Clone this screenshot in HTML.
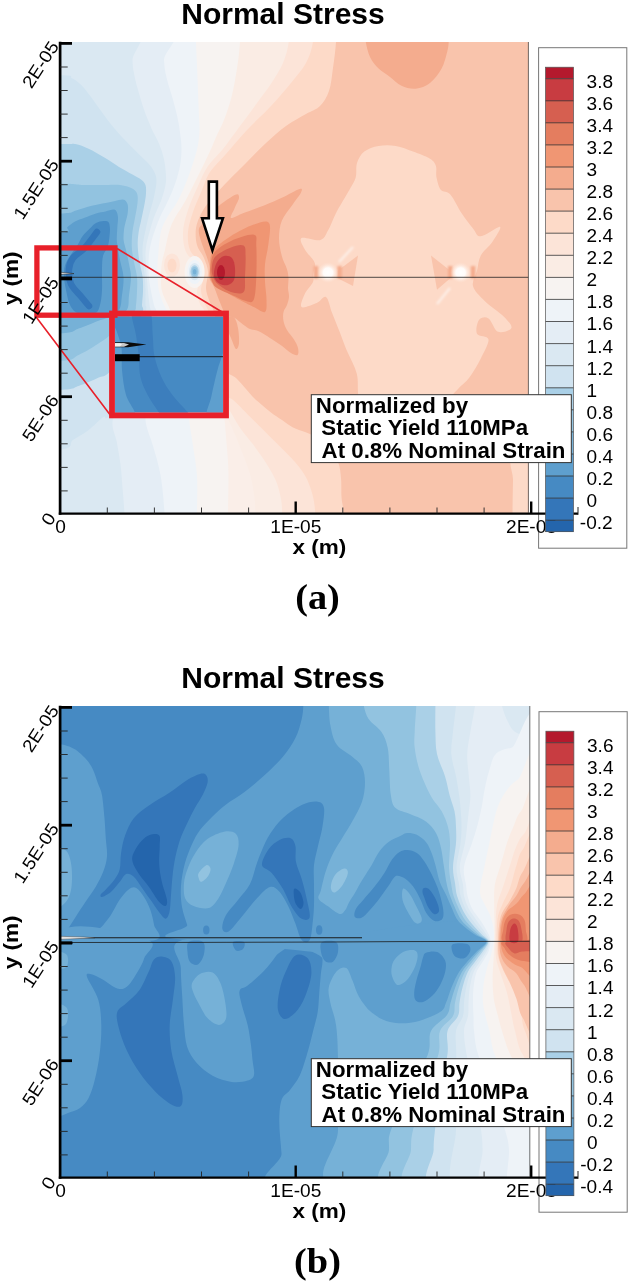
<!DOCTYPE html>
<html lang="en"><head><meta charset="utf-8"><title>Normal Stress</title>
<style>
html,body{margin:0;padding:0;background:#fff}
svg{display:block}
text{font-family:"Liberation Sans",Arial,sans-serif;fill:#000}
.b{font-weight:bold}
.t{font-family:"Liberation Serif","Times New Roman",serif;font-weight:bold}
</style></head><body>
<svg width="629" height="1284" viewBox="0 0 629 1284">
<rect width="629" height="1284" fill="#fff"/>
<defs><clipPath id="ca"><rect x="60" y="42" width="468.5" height="471.5"/></clipPath>
<clipPath id="cin"><rect x="115" y="316.4" width="108" height="96.2"/></clipPath>
<filter id="bl1" x="-50%" y="-50%" width="200%" height="200%"><feGaussianBlur stdDeviation="1.2"/></filter>
<filter id="bl2" x="-50%" y="-50%" width="200%" height="200%"><feGaussianBlur stdDeviation="2.2"/></filter>
<radialGradient id="gw"><stop offset="0" stop-color="#fff"/><stop offset="0.45" stop-color="#fff" stop-opacity="0.9"/><stop offset="1" stop-color="#fde4d6" stop-opacity="0"/></radialGradient>
</defs>
<g clip-path="url(#ca)">
<rect x="55" y="37" width="480" height="482" fill="#f9c4ac"/>
<path d="M336 20C395.3 23.7 336.5 34 336 42C335.5 50 334.2 59.8 333 68C331.8 76.2 331.2 84.7 329 91C326.8 97.3 323.8 102.2 320 106C316.2 109.8 311.7 110.7 306 114C300.3 117.3 292.7 121.2 286 126C279.3 130.8 272.7 136.8 266 143C259.3 149.2 252.2 156.8 246 163C239.8 169.2 234.5 174.3 229 180C223.5 185.7 217.5 191.7 213 197C208.5 202.3 204.8 206.8 202 212C199.2 217.2 196.8 222.5 196 228C195.2 233.5 195.7 240 197 245C198.3 250 202.2 253.5 204 258C205.8 262.5 207.7 267 208 272C208.3 277 205.8 283.3 206 288C206.2 292.7 207.7 296 209 300C210.3 304 212.5 307 214 312C215.5 317 216.7 322.8 218 330C219.3 337.2 220.4 348 222 355C223.6 362 225.3 368.2 227.6 372C229.9 375.8 232.9 375.2 236 378C239.1 380.8 243 385.7 246 389C249 392.3 251.3 395.3 254 398C256.7 400.7 259.2 402.6 262 405C264.8 407.4 267.7 410 271 412.5C274.3 415 278.3 417.5 282 420C285.7 422.5 289.2 425.5 293 427.5C296.8 429.5 301.3 430.4 305 432C308.7 433.6 311.2 434.3 315 437C318.8 439.7 324.2 443.8 328 448C331.8 452.2 335.8 457 338 462C340.2 467 340.4 472.2 341 478C341.6 483.8 341.1 491.2 341.5 497C341.9 502.8 343.2 505.8 343.5 513C343.8 520.2 404.1 535.5 343.5 540C282.9 544.5 40.6 626.7 -20 540C-80.6 453.3 -79.3 106.7 -20 20C39.3 -66.7 276.7 16.3 336 20Z" fill="#fddac8"/>
<path d="M313 20C368.5 23.7 314.2 34.8 313 42C311.8 49.2 309.7 56.2 306 63C302.3 69.8 296.8 75.8 291 83C285.2 90.2 278.2 98.3 271 106C263.8 113.7 255.5 121 248 129C240.5 137 232.3 146.8 226 154C219.7 161.2 214 166 210 172C206 178 204.8 183.3 202 190C199.2 196.7 195.3 205 193 212C190.7 219 188.5 225.7 188 232C187.5 238.3 188 245 190 250C192 255 197.7 258 200 262C202.3 266 203.8 269.3 204 274C204.2 278.7 201 285.3 201 290C201 294.7 202.7 298.2 204 302C205.3 305.8 207.3 306.7 209 313C210.7 319.3 212.2 328.8 214 340C215.8 351.2 218 370.7 220 380C222 389.3 223.7 392.6 226 396C228.3 399.4 229.5 396.7 234 400.7C238.5 404.7 246.6 413.4 253 419.8C259.4 426.2 265.9 432.5 272.3 438.9C278.7 445.3 285.9 452 291.3 458C296.7 464 301.2 469 304.7 475C308.2 481 310.6 487.7 312.3 494C314.1 500.3 314.7 505.3 315.2 513C315.7 520.7 371.1 535.5 315.2 540C259.3 544.5 35.9 626.7 -20 540C-75.9 453.3 -75.5 106.7 -20 20C35.5 -66.7 257.5 16.3 313 20Z" fill="#fce4d8"/>
<path d="M288.7 20C340.1 23.7 289.6 34.8 288.7 42C287.8 49.2 285.9 56.2 283 63C280.1 69.8 275.8 76.3 271.5 83C267.2 89.7 262.2 95.8 257 103C251.8 110.2 245.7 118.3 240 126C234.3 133.7 228.3 142.3 223 149C217.7 155.7 212.2 159.8 208 166C203.8 172.2 201.3 178.7 198 186C194.7 193.3 190.5 202.3 188 210C185.5 217.7 183.3 225 183 232C182.7 239 183.7 246.7 186 252C188.3 257.3 194.5 260 197 264C199.5 268 201 271.3 201 276C201 280.7 197.2 287.3 197 292C196.8 296.7 198.7 300.5 200 304C201.3 307.5 203.3 306.2 205 313C206.7 319.8 208 333 210 345C212 357 214.7 375.5 217 385C219.3 394.5 222.3 398.4 224 402C225.7 405.6 224.8 402.3 227.4 406.5C230 410.7 235.5 421 239.8 427.4C244.1 433.8 248.8 438.6 253.2 444.6C257.6 450.7 262.7 457.6 266.5 463.7C270.3 469.8 273.6 475.2 276 480.9C278.4 486.6 279.8 492.6 280.8 498C281.8 503.4 282 506 282.2 513C282.4 520 332.6 535.5 282.2 540C231.8 544.5 30.4 626.7 -20 540C-70.4 453.3 -71.4 106.7 -20 20C31.4 -66.7 237.2 16.3 288.7 20Z" fill="#faece4"/>
<path d="M205 380C244.2 383.3 211.8 394.3 215 400C218.2 405.7 221.9 411 224 414C226.1 417 225.4 414.2 227.4 418C229.4 421.8 233.3 430.7 236 437C238.7 443.3 241.2 449.7 243.6 456C246 462.3 248.6 468.7 250.3 475C252 481.3 253.1 487.7 254 494C254.9 500.3 255.2 505.3 255.5 513C255.8 520.7 301.4 535.5 255.5 540C209.6 544.5 25.9 566.7 -20 540C-65.9 513.3 -57.5 406.7 -20 380C17.5 353.3 165.8 376.7 205 380Z" fill="#faeee8"/>
<path d="M240 20C283.3 23.7 240.5 33.9 240 42C239.5 50.1 238.4 59.4 237 68.6C235.6 77.8 233.7 88.4 231.5 97C229.3 105.6 226.4 113.7 224 120C221.6 126.3 219.2 130.2 217 135C214.8 139.8 213.2 144.2 211 149C208.8 153.8 206.3 159.2 204 164C201.7 168.8 199.3 173.3 197 178C194.7 182.7 192.3 187.5 190 192C187.7 196.5 185.3 201 183 205C180.7 209 178 212.5 176 216C174 219.5 172.4 222.3 171 226C169.6 229.7 168.5 234 167.5 238C166.5 242 165.9 246 165 250C164.1 254 162.7 257.5 162 262C161.3 266.5 161 272.2 161 277C161 281.8 160.8 286.3 162 291C163.2 295.7 166 301.2 168 305C170 308.8 168.7 309.8 174 314C179.3 318.2 193.2 319 200 330C206.8 341 211.3 366.7 215 380C218.7 393.3 220.4 403.5 222 410C223.6 416.5 223.8 413.6 224.5 419C225.2 424.4 225.8 434 226.5 442.7C227.2 451.4 228.2 459.6 228.4 471.3C228.7 483 228.1 501.6 228 513C227.9 524.5 269.3 535.5 228 540C186.7 544.5 21.3 626.7 -20 540C-61.3 453.3 -63.3 106.7 -20 20C23.3 -66.7 196.7 16.3 240 20Z" fill="#f7f3f1"/>
<path d="M196 20C232 23.7 195.8 34.5 196 42C196.2 49.5 196.7 56.8 197 65C197.3 73.2 197.7 82.5 198 91C198.3 99.5 198.8 109.5 199 116C199.2 122.5 199.7 125.2 199.5 130C199.3 134.8 198.9 140 198 145C197.1 150 195.5 155 194 160C192.5 165 190.8 170 189 175C187.2 180 185.2 185.2 183 190C180.8 194.8 178.5 199.7 176 204C173.5 208.3 170.3 212 168 216C165.7 220 163.4 224 162 228C160.6 232 160.1 236 159.5 240C158.9 244 158.8 248 158.5 252C158.2 256 157.7 259.8 157.5 264C157.3 268.2 157.2 272.5 157.5 277C157.8 281.5 157.9 286.3 159 291C160.1 295.7 162.2 300.8 164 305C165.8 309.2 167.3 310.2 170 316C172.7 321.8 177.2 327.7 180 340C182.8 352.3 185.5 376.8 187 390C188.5 403.2 188 409.7 189 419C190 428.3 191.7 436.5 193 446C194.3 455.5 196.3 464.8 197 476C197.7 487.2 197 502.3 197 513C197 523.7 233.2 535.5 197 540C160.8 544.5 16.2 626.7 -20 540C-56.2 453.3 -56 106.7 -20 20C16 -66.7 160 16.3 196 20Z" fill="#eef3f8"/>
<path d="M164 20C194.7 26.7 163.5 50.2 164 60C164.5 69.8 165.5 72.6 166.9 79C168.3 85.4 170.8 91.8 172.6 98.2C174.3 104.6 176.2 111.6 177.4 117.3C178.6 123 179.3 127.4 180 132.5C180.7 137.6 181.4 142.9 181.5 148C181.6 153.1 181.2 158 180.5 163C179.8 168 178.4 173.2 177 178C175.6 182.8 173.8 187.5 172 192C170.2 196.5 168 200.8 166 205C164 209.2 161.8 212.8 160 217C158.2 221.2 156.5 225.7 155 230C153.5 234.3 152 239 151 243C150 247 149.4 250.3 149 254C148.6 257.7 148.5 261.2 148.5 265C148.5 268.8 148.4 272.7 148.8 277C149.2 281.3 150.1 286.3 151 291C151.9 295.7 153 301.2 154 305C155 308.8 156.3 308.2 157 314C157.7 319.8 159.2 327.3 158 340C156.8 352.7 152.1 376.8 150 390C147.9 403.2 144.9 409.7 145.4 419C145.9 428.3 150.4 436.5 153 446C155.6 455.5 158.8 464.8 160.7 476C162.6 487.2 163.9 502.3 164.5 513C165.1 523.7 195.2 535.5 164.5 540C133.8 544.5 10.8 626.7 -20 540C-50.8 453.3 -50.7 106.7 -20 20C10.7 -66.7 133.3 13.3 164 20Z" fill="#e4edf5"/>
<path d="M132.5 20C157.9 26.7 132.2 50.8 132.5 60C132.8 69.2 133.5 70.2 134.4 75.3C135.3 80.4 136.6 84.8 138.2 90.5C139.8 96.2 141.8 103.2 144 109.6C146.2 116 149.1 123 151.6 128.7C154.1 134.4 157.1 138.9 159.2 144C161.3 149.1 162.9 154.1 164 159.2C165.1 164.3 165.7 170.2 165.9 174.5C166.2 178.8 166.2 181.1 165.5 185C164.8 188.9 163.4 193.8 162 198C160.6 202.2 158.5 206.3 157 210C155.5 213.7 154.2 216.3 153 220C151.8 223.7 150.6 228 149.5 232C148.4 236 147.2 240.3 146.5 244C145.8 247.7 145.6 250.5 145.5 254C145.4 257.5 145.8 261.2 146 265C146.2 268.8 146.5 272.7 146.8 277C147.1 281.3 147.6 286.3 148 291C148.4 295.7 149 301.2 149.5 305C150 308.8 150.9 308.2 151 314C151.1 319.8 153.5 327.3 150 340C146.5 352.7 136.2 376.8 130 390C123.8 403.2 115.2 410.3 113 419C110.8 427.7 115.5 434.3 116.8 442C118.1 449.7 119.6 457.3 120.6 465C121.5 472.7 121.9 480 122.5 488C123.1 496 124.1 504.3 124.4 513C124.7 521.7 148.5 535.5 124.4 540C100.3 544.5 4.1 626.7 -20 540C-44.1 453.3 -45.4 106.7 -20 20C5.4 -66.7 107.1 13.3 132.5 20Z" fill="#dae8f2"/>
<path d="M-20 75.3C-6.3 12.9 46.8 74.8 62 75.3C77.2 75.8 68.3 76.4 71.5 78C74.7 79.6 77.8 81.8 81 84.8C84.2 87.8 87.3 92.2 90.5 96.3C93.7 100.4 96.5 104.8 100 109.6C103.5 114.4 107.3 119.8 111.5 124.9C115.7 130 120.5 135.2 124.9 140C129.3 144.8 134.1 149.3 138.2 153.5C142.3 157.7 146.8 161.5 149.7 165C152.6 168.5 154.3 171.7 155.4 174.5C156.5 177.3 156.5 179.1 156.4 182C156.3 184.9 155.7 188.5 155 192C154.3 195.5 153.5 199.2 152.5 203C151.5 206.8 150.1 210.8 149 215C147.9 219.2 146.9 223.8 146 228C145.1 232.2 144.1 236.3 143.5 240C142.9 243.7 142.6 246.3 142.5 250C142.4 253.7 142.6 257.5 143 262C143.4 266.5 144.4 272.2 144.8 277C145.2 281.8 145.4 286.3 145.5 291C145.6 295.7 145.4 301.2 145.5 305C145.6 308.8 146.9 301.5 146 314C145.1 326.5 146.2 363 140 380C133.8 397 115.1 409.8 109 416C102.9 422.2 106.9 414.6 103.4 417C99.9 419.4 93.1 426.7 88 430.5C82.9 434.3 77.7 436.8 73 440C68.3 443.2 75.5 448 60 449.6C44.5 451.2 -6.7 512 -20 449.6C-33.3 387.2 -33.7 137.7 -20 75.3Z" fill="#d0e3f0"/>
<path d="M-20 144C-6.3 103.1 46.1 144 62 144C77.9 144 70.9 143.2 75.3 144C79.7 144.8 83.8 146.5 88.6 148.7C93.4 150.9 98.8 154.3 103.9 157.3C109 160.3 114.2 164 119 166.9C123.8 169.8 128.8 172.4 132.5 174.5C136.2 176.6 138.8 177.8 141 179.5C143.2 181.2 144.7 182.7 145.5 185C146.3 187.3 146.1 190.4 146 193.4C145.9 196.4 145.2 199.8 144.7 203C144.2 206.2 143.5 209.3 142.8 212.5C142.2 215.7 141.4 219.1 140.8 222C140.2 224.9 139.5 227 139 230C138.5 233 138 236.7 137.8 240C137.6 243.3 137.7 246.3 138 250C138.3 253.7 138.7 257.5 139.5 262C140.3 266.5 142 272.2 142.6 277C143.2 281.8 143.1 286.3 143 291C142.9 295.7 142.2 301.2 142 305C141.8 308.8 144.8 306.5 142 314C139.2 321.5 130.5 340.2 125 350C119.5 359.8 113.5 367.8 109 372.5C104.5 377.2 102.8 375.8 97.7 378C92.6 380.2 84.9 383.9 78.6 385.9C72.3 387.8 76.4 389.1 60 389.7C43.6 390.3 -6.7 430.6 -20 389.7C-33.3 348.8 -33.7 184.9 -20 144Z" fill="#aad0e7"/>
<path d="M-20 183.5C-6.7 153.9 42.7 183.2 60 183.5C77.3 183.8 76.2 184.8 83.8 185C91.4 185.2 99.5 185 105.5 185C111.5 185 115.9 184.6 119.9 185C123.9 185.4 126.9 186.3 129.4 187.2C131.9 188.1 133.7 189.2 135 190.5C136.3 191.8 137.1 193.2 137.5 195.3C137.9 197.4 137.8 200.1 137.5 203C137.2 205.9 136.6 209.3 136 212.5C135.4 215.7 134.8 219.1 134.2 222C133.6 224.9 133.1 227 132.7 230C132.3 233 131.9 236.7 131.8 240C131.7 243.3 131.6 246.3 132 250C132.4 253.7 133.2 257.5 134 262C134.8 266.5 136.5 272.2 137 277C137.5 281.8 137.2 286.3 137 291C136.8 295.7 136.5 301.5 136 305C135.5 308.5 136.7 308.7 134 312C131.3 315.3 124.2 321 120 325C115.8 329 112.7 332.8 109 336C105.3 339.2 102.8 340.8 97.7 344C92.6 347.2 84.9 352.2 78.6 355C72.3 357.8 76.4 360 60 361C43.6 362 -6.7 390.6 -20 361C-33.3 331.4 -33.3 213.1 -20 183.5Z" fill="#92c3e0"/>
<path d="M-20 214C-6.7 194 44 214.1 60 213.5C76 212.9 70.7 211.8 76 210.5C81.3 209.2 86.9 207.1 91.8 205.8C96.7 204.6 101.6 203.8 105.5 203C109.4 202.2 112.1 201.6 115 201C117.9 200.4 120.8 199.4 122.7 199.6C124.6 199.8 125.6 200.8 126.5 202C127.4 203.2 127.8 204.7 128 206.8C128.2 208.9 127.9 211.9 127.5 214.4C127.1 216.9 126.2 219.4 125.6 222C125 224.6 124.3 227 124 230C123.7 233 123.3 236.7 123.6 240C123.9 243.3 125.1 246 126 250C126.9 254 128.2 259.5 129 264C129.8 268.5 131 271.8 131 277C131 282.2 129.8 289.3 129 295C128.2 300.7 129.7 307.2 126 311C122.3 314.8 111.7 316.3 107 318C102.3 319.7 102.4 319.2 97.7 321C93 322.8 84.9 326.5 78.6 328.6C72.3 330.7 76.4 332.6 60 333.4C43.6 334.2 -6.7 353.3 -20 333.4C-33.3 313.5 -33.3 234 -20 214Z" fill="#76b1d7"/>
<path d="M-20 234C-6.5 220 46.2 234.2 60.8 233C75.4 231.8 65.1 228.9 67.5 227C69.9 225.1 72.2 223.1 75 221.5C77.8 219.9 81.1 219 84.6 217.7C88.1 216.3 92.5 214.4 96 213.4C99.5 212.4 102.6 212.1 105.5 211.5C108.4 210.9 111.4 209.6 113.2 209.6C115 209.6 115.7 210.2 116.5 211.5C117.3 212.8 117.8 215.1 118 217.3C118.2 219.6 117.7 222.4 117.5 225C117.3 227.6 117.1 230.1 117 233C116.9 235.9 116.5 238 117 242.5C117.5 247 118.9 254.2 120 260C121.1 265.8 123.2 271.2 123.5 277C123.8 282.8 122.9 289.3 122 295C121.1 300.7 121.7 307.8 118 311C114.3 314.2 106.3 313.2 100 314C93.7 314.8 86.3 315.5 80 316C73.7 316.5 78.7 316.8 62 317C45.3 317.2 -6.3 330.8 -20 317C-33.7 303.2 -33.5 248 -20 234Z" fill="#5e9fce"/>
<path d="M108.4 222C107.4 221 105.7 220.8 103.6 221C101.5 221.2 98.2 221.8 96 223C93.8 224.2 92.6 225.8 90.4 228C88.2 230.2 84.9 233 82.7 236C80.5 239 79.1 242.7 77 246C74.9 249.3 72 252.8 70 256C68 259.2 66 261.9 65 265.4C64 268.9 63.8 272.9 64 277C64.2 281.1 65 285.3 66 290C67 294.7 68 301.2 70 305C72 308.8 73.8 311.7 78 313C82.2 314.3 91.3 314.3 95 313C98.7 311.7 98.8 308.8 100 305C101.2 301.2 101.7 295.8 102 290C102.3 284.2 101.8 275.7 102 270C102.2 264.3 102 260 103 256C104 252 106.9 249.8 108 246C109.1 242.2 109.5 236.2 109.8 233C110.1 229.8 110 228.6 109.8 226.8C109.6 225 109.4 223 108.4 222Z" fill="#468ac3"/>
<path d="M97 232C94.9 234.7 88.6 243.7 84.6 248C80.6 252.3 75.6 254.5 73 258C70.4 261.5 69.3 264.7 69 269C68.7 273.3 68.9 279.3 71 284C73.1 288.7 78.5 293.3 81.5 297C84.5 300.7 87.8 304.5 89 306" fill="none" stroke="#3476b9" stroke-width="6.5" stroke-linecap="round" stroke-linejoin="round"/>
<ellipse cx="172" cy="265" rx="8" ry="11.5" fill="#fce4d8"/>
<ellipse cx="172" cy="265.5" rx="4.5" ry="7" fill="#fddac8"/>
<ellipse cx="194.6" cy="272" rx="10" ry="16" fill="#f7f3f1"/>
<ellipse cx="194.6" cy="272" rx="7.5" ry="12" fill="#eef3f8"/>
<ellipse cx="194.6" cy="271.7" rx="5.6" ry="8.6" fill="#dae8f2"/>
<ellipse cx="194.6" cy="271.7" rx="4.2" ry="6.4" fill="#aad0e7"/>
<ellipse cx="194.6" cy="271.7" rx="3" ry="4.6" fill="#92c3e0"/>
<ellipse cx="194.6" cy="271.7" rx="1.8" ry="2.8" fill="#76b1d7"/>
<path d="M350 188.8C351.4 186 354.5 181.7 355.7 177.4C356.9 173.1 355.6 167.3 357 163C358.4 158.7 360.7 154.4 364.3 151.6C367.9 148.8 373.4 146.9 378.6 146C383.9 145.1 390.1 145.1 395.8 146C401.5 146.9 407.3 149.5 413 151.6C418.7 153.7 426.2 156.4 430 158.8C433.8 161.2 434.8 162.9 435.9 166C437 169.1 435.6 173.4 436.5 177.4C437.4 181.4 438.7 187.2 441 190C443.3 192.8 446.8 190.5 450.3 194.4C453.8 198.3 458 207.7 461.8 213.4C465.6 219.1 470 224.9 473.2 228.7C476.4 232.5 476.3 236.6 480.8 236.3C485.3 236 498.1 225.9 500 226.8C501.9 227.8 495.5 237.2 492.3 242C489.1 246.8 483.4 250.6 480.8 255.4C478.2 260.2 478.3 265.6 477 270.7C475.7 275.8 471.7 280.9 473 286C474.3 291.1 479.6 295.9 484.7 301C489.8 306.1 499.2 312 503.7 316.5C508.1 321 512.4 325.4 511.4 328C510.4 330.6 501.8 333.4 498 331.8C494.2 330.2 491.7 320.4 488.5 318.4C485.3 316.4 480.9 317.4 479 320C477.1 322.6 475.4 330.5 477 333.7C478.6 336.9 487.9 335.3 488.5 339.4C489.1 343.5 484 352.1 480.8 358.5C477.6 364.9 473.2 372.5 469.4 377.6C465.6 382.7 461.2 385.3 458 389C454.8 392.7 453 393.2 450 400C447 406.8 448.3 421.7 440 430C431.7 438.3 411.7 448.3 400 450C388.3 451.7 376.8 448.3 370 440C363.2 431.7 361.2 411.1 359 400C356.8 388.9 358.8 381.9 356.8 373.7C354.8 365.5 349.9 358 347 351C344.1 344 342.1 338.2 339.6 331.8C337.1 325.4 334.3 318.5 332 312.7C329.7 306.9 328.6 298.6 326 297C323.4 295.4 320.8 301.3 316.7 303C312.6 304.7 303.4 308.6 301.5 307C299.6 305.4 303.1 297.8 305 293.6C306.9 289.4 311.7 285.2 313 282C314.3 278.8 312.7 277.7 313 274.5C313.3 271.3 316.1 267.1 314.8 263C313.5 258.9 307.2 253.9 305 249.7C302.8 245.5 298.9 239.6 301.5 238C304.1 236.4 316.1 241.2 320.5 240C324.9 238.8 325.4 235 328 230.6C330.6 226.2 332.6 219.5 335.8 213.4C339 207.3 344.6 198.1 347 194C349.4 189.9 348.6 191.6 350 188.8Z" fill="#fddac8"/>
<path d="M514 455C506.2 461.7 513.2 470.3 513 480C512.8 489.7 512.6 503 512.5 513C512.4 523 504.6 535.5 512.5 540C520.4 544.5 552.1 556.7 560 540C567.9 523.3 567.7 454.2 560 440C552.3 425.8 521.8 448.3 514 455Z" fill="#fddac8"/>
<path d="M337.7 270.7L358 255.4L353 286L337.7 278.3Z" fill="#f9c4ac"/>
<path d="M450.3 270.7L431 255.4L437 289.8L450.3 278.3Z" fill="#f9c4ac"/>
<rect x="313.6" y="266" width="4.5" height="12.5" fill="#f4ac8e" filter="url(#bl1)"/>
<rect x="337.4" y="266" width="4.5" height="12.5" fill="#f4ac8e" filter="url(#bl1)"/>
<rect x="448" y="266" width="4.5" height="12.5" fill="#f4ac8e" filter="url(#bl1)"/>
<rect x="470.8" y="266" width="4.5" height="12.5" fill="#f4ac8e" filter="url(#bl1)"/>
<path d="M339 262L353 247" stroke="#fdeee6" stroke-width="2.5" filter="url(#bl1)"/>
<path d="M450 288L437 304" stroke="#fdeee6" stroke-width="2.5" filter="url(#bl1)"/>
<circle cx="328" cy="272.6" r="10.5" fill="url(#gw)"/>
<circle cx="460.6" cy="272.6" r="10.5" fill="url(#gw)"/>
<path d="M365.7 30C351.9 31.9 365 36.9 365.7 41.4C366.4 45.9 367.9 52.5 370 57C372.1 61.5 375.3 65.3 378.6 68.6C381.9 71.9 386.2 74.1 390 77C393.8 79.9 397.2 83.8 401.5 85.8C405.8 87.8 411.1 89.2 415.8 88.7C420.6 88.2 425.7 86.3 430 83C434.3 79.7 438.7 73.9 441.6 68.6C444.5 63.3 446.1 55.9 447.3 51.4C448.5 46.9 448.5 45 448.7 41.4C448.9 37.8 462.5 31.9 448.7 30C434.9 28.1 379.5 28.1 365.7 30Z" fill="#f4ac8e"/>
<path d="M209 264C207.3 256.7 200 240.2 199 233.4C198 226.6 200.7 226.8 203 223C205.3 219.2 207.7 215.2 213 210.5C218.3 205.8 230.4 197.1 234.7 195C239 192.9 239 195.6 239 197.8C239 200 236 204.6 234.7 208C233.4 211.4 229.5 217.2 231 218C232.5 218.8 238.1 215.1 243.6 213C249.1 210.9 257.6 207.9 264 205.4C270.4 202.9 275.9 200.5 281.8 197.8C287.7 195.1 296.4 189.8 299.6 189C302.8 188.2 302.2 190 300.9 192.7C299.6 195.4 295.2 200.7 292 205.4C288.8 210.1 284 215.2 281.8 220.7C279.6 226.2 279 232.6 279 238.5C279 244.4 280.5 250.9 281.8 256C283.1 261.1 285.8 265.3 286.9 269C288 272.7 288.3 274.8 288.5 278C288.7 281.2 287.9 284.8 288 288C288.1 291.2 289.2 294.2 289 297C288.8 299.8 287.9 302.5 287 305C286.1 307.5 284.1 309.3 283.5 312C282.9 314.7 282.9 318 283.5 321C284.1 324 285.2 326.9 287 330C288.8 333.1 292.2 336.6 294 339.6C295.8 342.6 297.4 345.4 298 348C298.6 350.6 298.7 354.2 297.5 355C296.3 355.8 293.8 354.6 291 353C288.2 351.4 284.6 347.9 281 345.3C277.4 342.8 273.4 340.1 269.6 337.7C265.8 335.3 261.5 332.4 258.2 331C254.9 329.6 252.5 330.1 250 329C247.5 327.9 245.6 326.3 243 324.4C240.4 322.5 237 319.1 234.3 317.7C231.6 316.3 228.7 316.9 227 316C225.3 315.1 225.3 314.7 224 312C222.7 309.3 220.7 304.2 219 300C217.3 295.8 215.7 290.8 214 287C212.3 283.2 209.8 280.8 209 277C208.2 273.2 210.7 271.3 209 264Z" fill="#f4ac8e"/>
<path d="M226 318C227.2 316.2 232 315.8 234 317.5C236 319.2 237.2 323.8 238 328C238.8 332.2 239.3 339.5 239 343C238.7 346.5 237.3 349.8 236 349C234.7 348.2 232.5 341.5 231 338C229.5 334.5 227.8 331.3 227 328C226.2 324.7 224.8 319.8 226 318Z" fill="#f4ac8e"/>
<path d="M213 251C216.5 245.7 224.2 240.4 231 236C237.8 231.6 247.5 226.7 253.8 224.5C260.1 222.3 266.6 219.8 269 223C271.4 226.2 269.2 236.8 268.5 243.6C267.8 250.4 265.6 257.6 265 264C264.4 270.4 264.8 275.9 265 281.8C265.2 287.7 266.5 294.6 266.5 299.6C266.5 304.6 267.1 310.8 265 312C262.9 313.2 257.4 308.7 253.8 307C250.2 305.3 248.3 304.5 243.6 302C238.9 299.5 231.1 295.4 225.8 292C220.5 288.6 214.4 285.8 211.8 281.8C209.2 277.8 209.8 273.1 210 268C210.2 262.9 209.5 256.3 213 251Z" fill="#f09673"/>
<path d="M210.5 266.5C211.1 262.5 211 256.8 214.4 252.5C217.8 248.2 224.4 244 231 241C237.6 238 249.6 233.9 253.8 234.7C258 235.5 255.9 239 256.3 246C256.7 253 256.7 267.8 256.3 276.7C255.9 285.6 255.5 295.6 253.8 299.6C252.1 303.7 249.8 301.9 246 301C242.2 300.1 236.1 296.8 231 294.5C225.9 292.2 218.9 290 215.6 287C212.3 284 211.8 280.1 211 276.7C210.2 273.3 209.9 270.5 210.5 266.5Z" fill="#e47d5f"/>
<path d="M211.8 267.8C212.2 264.4 212.4 259.7 215.6 256.3C218.8 252.9 226.3 249.2 231 247.4C235.7 245.6 241.2 244.1 243.6 245.6C246 247.1 245.4 251.1 245.6 256.3C245.8 261.5 245.3 270.8 245 276.7C244.7 282.6 245.9 289.4 243.6 292C241.3 294.6 235.3 293.3 231 292C226.7 290.7 221 286.9 218 284.3C215 281.8 214 279.4 213 276.7C212 273.9 211.4 271.2 211.8 267.8Z" fill="#d65f50"/>
<path d="M214 272C214.3 269.2 215.3 264.7 217 262C218.7 259.3 221.5 256.7 224 256C226.5 255.3 230.2 256 232 258C233.8 260 234.7 264.3 235 268C235.3 271.7 235.2 277.2 234 280C232.8 282.8 230.3 284.3 228 285C225.7 285.7 222.2 285 220 284C217.8 283 216 281 215 279C214 277 213.7 274.8 214 272Z" fill="#c83c41"/>
<ellipse cx="221" cy="272.5" rx="4" ry="7.5" fill="#b4192d"/>
<path d="M60 277.3H528.5" stroke="#222" stroke-width="0.8"/>
<rect x="60" y="276.6" width="12" height="3" fill="#000"/>
<path d="M60 272.2L74 273.6L60 274.6Z" fill="#ddd" stroke="#222" stroke-width="0.5"/>
</g>
<g clip-path="url(#cin)">
<rect x="112" y="313" width="114" height="103" fill="#468ac3"/>
<path d="M112 330C113.5 318.2 119.3 338.3 121 345C122.7 351.7 121.2 361.7 122 370C122.8 378.3 123.8 387.3 126 395C128.2 402.7 137.3 412.5 135 416C132.7 419.5 115.8 430.3 112 416C108.2 401.7 110.5 341.8 112 330Z" fill="#5e9fce"/>
<path d="M132 310C129.8 314.2 134.9 327.3 136 335C137.1 342.7 138 349 138.7 356C139.4 363 138.9 370.6 140.4 377C141.9 383.4 144.3 388.5 147.4 394.4C150.5 400.3 156.2 408.3 159 412.6C161.8 416.9 158.3 418.8 164 420C169.7 421.2 189 421.2 193 420C197 418.8 191.5 416.9 188 412.6C184.5 408.3 176.4 400.3 172 394.4C167.6 388.5 164.3 383.4 161.4 377C158.5 370.6 155.9 363 154.4 356C152.9 349 153.5 342.7 152.7 335C151.9 327.3 152.9 314.2 149.5 310C146.1 305.8 134.2 305.8 132 310Z" fill="#3c7ebd"/>
<path d="M227 350C225.8 340.8 222 357 220 362C218 367 216.5 374 215 380C213.5 386 212.3 391.8 211 398C209.7 404.2 204.3 413.8 207 417C209.7 420.2 223.7 428.2 227 417C230.3 405.8 228.2 359.2 227 350Z" fill="#5e9fce"/>
<path d="M139 356.7H224" stroke="#111" stroke-width="0.9"/>
<rect x="115" y="354.2" width="24.7" height="7" fill="#000"/>
<path d="M115 342.3H128L146.5 344.4L128 347.3H115Z" fill="#0a0a0a"/>
<path d="M115 342.9H124L129 344.6L124 346.7H115Z" fill="#c9c9c9"/>
<path d="M115 343.3H120L122 344.6L120 346.2H115Z" fill="#f0f0f0"/>
</g>
<path d="M117 248.5L227 315M36.5 317.5L111 416" stroke="#e8202a" stroke-width="1.6" fill="none"/>
<rect x="36.9" y="247.9" width="78" height="67.3" fill="none" stroke="#e8202a" stroke-width="5.3"/>
<rect x="112" y="313.5" width="114" height="101.9" fill="none" stroke="#e8202a" stroke-width="5.8"/>
<path d="M208.8 181.6H216.9V218.3H222.9L212.4 250.2L202.1 218.3H208.8Z" fill="#fff" stroke="#000" stroke-width="2.6" stroke-linejoin="miter"/>
<defs><clipPath id="cb"><rect x="60" y="706" width="469.8" height="471.5"/></clipPath></defs>
<g clip-path="url(#cb)">
<rect x="55" y="701" width="480" height="482" fill="#468ac3"/>
<path d="M50 743.9C51.7 711.2 55.8 742.9 60 743.9C64.2 744.9 70.2 746.1 75.3 749.6C80.4 753.1 86.7 759.2 90.5 764.9C94.3 770.6 96.3 778.9 98.2 784C100.1 789.1 101 789.6 102 795.3C103 801 103.9 811 104.5 818.2C105.1 825.4 105.4 832.1 105.8 838.5C106.2 844.9 107.4 850.8 107 856.3C106.6 861.8 105.2 866.5 103.3 871.6C101.4 876.7 98.6 881.8 95.6 886.9C92.6 892 88.8 896.9 85.4 902C82 907.1 78.3 912.7 75.3 917.4C72.3 922.1 69.3 926.2 67.6 930C65.9 933.8 67.9 938.3 65 940C62.1 941.7 52.5 972.7 50 940C47.5 907.3 48.3 776.6 50 743.9Z" fill="#5e9fce"/>
<path d="M93 940C84.3 937.5 100.3 929.2 103.3 925C106.3 920.8 108.2 919.1 110.9 914.9C113.7 910.7 116.8 903.9 119.8 899.6C122.8 895.4 125.9 891.3 128.7 889.4C131.4 887.5 133.8 886.7 136.3 888C138.9 889.3 141.7 893.4 144 897C146.3 900.6 148.6 905.1 150.3 909.8C152 914.5 153.2 920 154.1 925C154.9 930 165.6 937.5 155.4 940C145.2 942.5 101.7 942.5 93 940Z" fill="#5e9fce"/>
<path d="M303.3 695C263.9 696.8 303.6 701.7 303.3 705.7C303 709.7 303 713.6 301.7 719C300.4 724.4 298.6 731.7 295.4 738C292.2 744.3 288 750.7 282.7 757C277.4 763.3 270 770.2 263.6 776C257.2 781.8 250.9 787.2 244.5 792C238.1 796.8 230.8 800.8 225.4 805C220 809.2 216.2 812.8 212 817C207.8 821.2 203.3 825.6 200 830C196.7 834.4 194.9 837.9 192.3 843.6C189.8 849.3 186.6 856.8 184.7 864C182.8 871.2 181.3 879.7 180.9 886.9C180.5 894.1 180.9 900.6 182 907C183.1 913.4 185.5 919.5 187.2 925C188.9 930.5 133.5 937.5 192.3 940C251.1 942.5 482.1 980.8 540 940C598 899.2 579.5 735.8 540 695C500.6 654.2 342.8 693.2 303.3 695Z" fill="#5e9fce"/>
<path d="M50 940C66 910.7 130.2 937 145.9 940C161.6 943 145.9 952.3 144.3 958C142.7 963.7 139.2 969.2 136.3 974C133.4 978.8 130 984.4 126.8 986.8C123.6 989.2 121.5 989.7 117.2 988.4C113 987.1 105.8 981.2 101.3 978.8C96.8 976.4 92.6 974.3 90.2 974C87.8 973.7 85.7 972.8 87 977C88.3 981.2 95.8 991.5 98.2 999.5C100.6 1007.5 101 1016 101.3 1025C101.5 1034 100.8 1044.5 99.7 1053.5C98.7 1062.5 96.8 1071.6 95 1079C93.2 1086.4 91.1 1093.2 88.6 1098C86.1 1102.8 83.4 1105.5 80 1108C76.6 1110.5 71.3 1111.7 68 1113C64.7 1114.3 63 1115.5 60 1116C57 1116.5 51.7 1145.3 50 1116C48.3 1086.7 34 969.3 50 940Z" fill="#5e9fce"/>
<path d="M182.4 940C164.9 944.6 180.8 957.8 180.8 967.7C180.8 977.6 181.9 990 182.4 999.5C182.9 1009 183.2 1017.1 184 1025C184.8 1032.9 185.1 1040.7 187.2 1047C189.3 1053.3 192.5 1058.2 196.7 1063C200.9 1067.8 206.8 1072.6 212.6 1075.8C218.4 1079 225.9 1081.2 231.7 1082C237.5 1082.8 243.9 1081.8 247.6 1080.6C251.3 1079.4 253.2 1078.4 254 1075C254.8 1071.6 253 1065.1 252.5 1060C252 1054.9 251.7 1050.2 250.9 1044.4C250.1 1038.6 249.3 1032.2 247.7 1025.3C246.1 1018.4 242.6 1008.8 241.3 1003C240 997.2 238.6 993.3 239.7 990.4C240.8 987.5 243.7 988.8 247.7 985.6C251.7 982.4 258.8 976.3 263.6 971.3C268.4 966.3 272.6 960.6 276.3 955.4C280 950.2 301.5 942.6 285.9 940C270.2 937.4 199.9 935.4 182.4 940Z" fill="#5e9fce"/>
<path d="M317.6 940C281.3 943.1 321.9 952.9 322.4 958.6C322.9 964.4 321.3 968.7 320.8 974.5C320.3 980.3 319.7 987.1 319.2 993.5C318.7 999.9 318.7 1006.2 317.6 1012.6C316.6 1019 314.5 1025.3 312.9 1031.7C311.3 1038.1 310.1 1043.6 308 1050.8C305.9 1058 303 1068.5 300 1075C297 1081.5 293.1 1085.8 290 1090C286.9 1094.2 283.3 1094.6 281.5 1100C279.7 1105.4 279.3 1113.5 279.3 1122.4C279.3 1131.3 280.8 1142.3 281.5 1153.6C282.2 1164.9 240.6 1183.9 283.7 1190C326.8 1196.1 497.3 1231.7 540 1190C582.7 1148.3 577.1 981.7 540 940C502.9 898.3 353.9 936.9 317.6 940Z" fill="#5e9fce"/>
<path d="M222.3 928.4C221.9 925.6 223.4 919.7 226 915C228.6 910.3 234 905.2 238 900C242 894.8 247 889.7 250 884C253 878.3 254 871.7 256 866C258 860.3 259.7 855.3 262 850C264.3 844.7 266.5 839.3 270 834C273.5 828.7 277.7 822.8 283 818C288.3 813.2 295.9 807.7 301.7 805C307.5 802.3 313.9 801.2 317.6 801.7C321.3 802.2 323.2 803.8 324 808C324.8 812.2 323.4 820.7 322.4 827C321.4 833.3 319.4 839.7 318 846C316.6 852.3 314.7 858.5 314 865C313.3 871.5 314 878.3 314 885C314 891.7 314.2 899.1 314 905C313.8 910.9 313.6 914.6 312.9 920.4C312.2 926.2 311.6 936.7 309.7 940C307.8 943.3 304.1 942.7 301.7 940C299.3 937.3 297.5 929 295.4 923.6C293.3 918.2 291.6 913 289 907.7C286.4 902.4 282.7 895.2 279.5 891.8C276.3 888.3 273.7 886 270 887C266.3 888 262 893 257.2 898C252.4 903 246.1 911.6 241.3 917.2C236.5 922.8 231.8 929.6 228.6 931.5C225.4 933.4 222.7 931.1 222.3 928.4Z" fill="#468ac3"/>
<path d="M399.6 852C397.1 853.6 394.5 856.1 392 859.6C389.5 863.1 387.3 868.5 384.4 873C381.5 877.5 378.3 881.8 374.8 886.3C371.3 890.8 366.6 895.9 363.4 899.7C360.2 903.5 357.1 906.3 355.7 909.2C354.3 912.1 353.8 915.5 354.8 916.9C355.8 918.3 359.1 918.8 361.5 917.8C363.9 916.8 366.1 914 369 911C371.9 908 375.4 903.8 378.6 899.7C381.8 895.6 385.6 890 388.2 886.3C390.8 882.6 392.3 879.5 393.9 877.7C395.5 876 395.8 875.6 397.7 875.8C399.6 876 402.8 877 405.3 878.7C407.9 880.5 410.4 882.8 413 886.3C415.6 889.8 418.4 895.2 420.6 899.7C422.8 904.2 424.1 909.5 426.3 913C428.5 916.5 431.4 919.6 434 920.7C436.6 921.8 440 921 441.6 919.7C443.2 918.4 443.5 916 443.5 913C443.5 910 442.6 905.7 441.6 901.6C440.7 897.5 439.4 892.7 437.8 888.2C436.2 883.8 434.2 879.4 432 874.9C429.8 870.4 426.9 865.2 424.4 861.5C421.9 857.8 419.6 854.8 416.8 852.9C414 851 410.2 850.1 407.3 850C404.4 849.9 402.2 850.4 399.6 852Z" fill="#468ac3"/>
<path d="M426 952.7C428.4 951.8 434 950.7 437.2 952C440.4 953.3 443.9 957.4 445.2 960.7C446.5 964 446 967.8 445.2 971.8C444.4 975.8 442.5 980.5 440.4 984.5C438.3 988.5 435.4 992.7 432.5 995.6C429.6 998.5 425.8 1001.2 423 1002C420.2 1002.8 417.3 1002 415.8 1000.4C414.3 998.8 414.1 996 414.2 992.5C414.3 989 415.6 984 416.6 979.7C417.7 975.5 419.4 970.7 420.5 967C421.6 963.3 422.1 959.9 423 957.5C423.9 955.1 423.6 953.6 426 952.7Z" fill="#468ac3"/>
<path d="M453.2 944C455.7 942.9 464.3 942.9 467.2 944C470.1 945.1 470.7 948.2 470.3 950.5C469.9 952.8 467.1 956.9 464.7 958C462.3 959.1 457.9 958.2 455.8 957C453.7 955.8 452.4 952.7 452 950.5C451.6 948.3 450.7 945.1 453.2 944Z" fill="#468ac3"/>
<path d="M322 942C324.5 940.3 333.3 940.3 336 942C338.7 943.7 338.5 948.7 338 952C337.5 955.3 335.2 960.2 333 961.7C330.8 963.2 327 962.6 325 961C323 959.4 321.5 955.2 321 952C320.5 948.8 319.5 943.7 322 942Z" fill="#468ac3"/>
<path d="M188.8 942C191.4 940.3 200.5 940 203 942C205.5 944 204.8 950.2 204 954C203.2 957.8 200.3 963.2 198 964.5C195.7 965.8 191.8 964.1 190 962C188.2 959.9 187.7 955.3 187.5 952C187.3 948.7 186.2 943.7 188.8 942Z" fill="#468ac3"/>
<path d="M233 942C234.3 940.6 242.3 940.8 244 942C245.7 943.2 244.3 947.6 243 949C241.7 950.4 237.7 951.7 236 950.5C234.3 949.3 231.7 943.4 233 942Z" fill="#468ac3"/>
<ellipse cx="206.3" cy="930" rx="3.2" ry="4.5" fill="#468ac3"/>
<ellipse cx="319.2" cy="930" rx="3.2" ry="4.8" fill="#468ac3"/>
<path d="M187.2 780C182.1 783.1 175.8 788.5 169.4 792.7C163 796.9 154.9 801.1 149 805.4C143.1 809.6 137.8 813.1 133.8 818.2C129.8 823.3 127 830.1 124.9 836C122.8 841.9 121.8 848.3 121 853.8C120.2 859.3 120.8 864.8 119.8 869C118.8 873.2 117 875.8 114.7 879.2C112.4 882.6 108.1 886.9 105.8 889.4C103.5 891.9 101.3 893.2 100.7 894.5C100.1 895.8 100.3 897.4 102 897C103.7 896.6 107.9 894.5 110.9 892C113.9 889.5 117.2 884.8 119.8 881.8C122.3 878.8 123.9 874.9 126.2 874C128.5 873.1 131.3 874.6 133.8 876.7C136.3 878.9 138.7 883.1 141.4 886.9C144.2 890.7 147.3 895.4 150.3 899.6C153.3 903.8 156.6 909.1 159.2 912.3C161.8 915.5 163.9 918.7 165.6 918.7C167.3 918.7 168.6 915.5 169.4 912.3C170.2 909.1 170.3 904.7 170.7 899.6C171.1 894.5 171.4 888.2 172 881.8C172.6 875.4 173.2 868.2 174.5 861.4C175.8 854.6 177.5 847.4 179.6 841C181.7 834.6 184.6 828.8 187.2 823.3C189.8 817.8 192.3 812.7 194.9 808C197.5 803.3 200.4 799.5 202.5 795.3C204.6 791 207 785.9 207.6 782.5C208.2 779.1 207.3 776.4 206 775C204.7 773.6 203.1 773.2 200 774C196.9 774.8 192.3 776.9 187.2 780Z" fill="#3476b9"/>
<path d="M150.3 834.7C153.3 833.8 157.6 833.6 159.2 835.5C160.8 837.4 159.7 841.2 159.7 846C159.7 850.8 158.8 858 159.2 864C159.5 870 160.5 875.9 161.8 881.8C163.1 887.7 166.3 895.6 166.9 899.6C167.5 903.6 166.9 905.6 165.6 906C164.3 906.4 162 905.2 159.2 902C156.4 898.8 152.4 891.6 149 886.9C145.6 882.2 141.7 878.2 138.9 874C136.2 869.8 133.3 865 132.5 861.4C131.7 857.8 132.3 855.9 133.8 852.5C135.3 849.1 138.7 844 141.4 841C144.2 838 147.3 835.6 150.3 834.7Z" fill="#2465ac"/>
<path d="M161.7 956.6C164.6 956.9 169.1 957.9 171.3 961.3C173.5 964.7 174.8 970.8 175.1 977.2C175.4 983.6 173.8 991.5 172.9 999.5C172 1007.5 170 1016.5 169.7 1025C169.4 1033.5 170 1041.9 171.3 1050.4C172.6 1058.9 175.8 1068.4 177.6 1075.8C179.4 1083.2 181.9 1089.9 182.4 1094.9C182.9 1099.9 182.7 1104.4 180.8 1106C179 1107.6 175.5 1106.8 171.3 1104.4C167.1 1102 160.7 1097 155.4 1091.7C150.1 1086.4 144.3 1079.5 139.5 1072.6C134.7 1065.7 130.2 1057.8 126.8 1050.4C123.3 1043 120.4 1034.4 118.8 1028C117.2 1021.6 115.9 1016.4 117.2 1012.2C118.5 1008 123.1 1006.4 126.8 1002.7C130.5 999 135.8 995.3 139.5 990C143.2 984.7 146.6 975.9 149 970.9C151.4 965.9 151.7 962.1 153.8 959.7C155.9 957.3 158.8 956.3 161.7 956.6Z" fill="#3476b9"/>
<path d="M262 865C261.5 861.1 265.5 853.6 268.4 849.4C271.3 845.2 275.8 841.9 279.5 840C283.2 838.1 288 837.3 290.6 838.3C293.2 839.3 294.5 842 295.4 846C296.3 850 294.9 856.5 296 862C297.1 867.5 299.9 873 301.7 879C303.4 885 305.2 891.6 306.5 898C307.8 904.4 310.5 913.7 309.7 917.2C308.9 920.7 304.6 920.4 301.7 918.8C298.8 917.2 295.4 912.7 292.2 907.7C289 902.7 286.1 894.4 282.7 888.6C279.2 882.8 274.9 876.6 271.5 872.7C268.1 868.8 262.5 868.9 262 865Z" fill="#3476b9"/>
<path d="M294 889C294.8 887.3 298.4 889.7 300 892C301.6 894.3 303.4 900.2 303.5 903C303.6 905.8 301.9 909.2 300.5 909C299.1 908.8 296.1 905.3 295 902C293.9 898.7 293.2 890.7 294 889Z" fill="#2465ac"/>
<path d="M295.4 955.4C299.1 953.3 305.4 955.4 308 958.6C310.6 961.8 311.8 968.1 311.3 974.5C310.8 980.9 307.6 990.4 305 996.7C302.4 1003.1 298.8 1008.9 295.4 1012.6C291.9 1016.3 287.2 1019.5 284.3 1019C281.4 1018.5 278.7 1014.2 277.9 1009.4C277.1 1004.6 278.2 996.8 279.5 990.4C280.8 984 283.2 977.1 285.9 971.3C288.5 965.5 291.7 957.5 295.4 955.4Z" fill="#3476b9"/>
<path d="M423.5 888.2C424.4 887.6 426.4 887.3 428.2 888.6C429.9 889.9 432.3 893.1 434 895.9C435.7 898.7 437.4 902.7 438.2 905.4C439 908.1 439.4 910.6 438.7 912C438 913.4 435.8 914.8 434 914C432.2 913.2 429.8 910 428.2 907.3C426.6 904.6 425.3 900.3 424.4 897.8C423.4 895.2 422.6 893.6 422.5 892C422.4 890.4 422.6 888.8 423.5 888.2Z" fill="#3476b9"/>
<path d="M55 847.4C55.8 837.4 57.9 846.5 60 847.4C62.1 848.2 65.7 849.3 67.6 852.5C69.5 855.7 70.8 860.8 71.5 866.5C72.2 872.2 72.2 881.4 71.5 886.9C70.8 892.4 69.5 896.2 67.6 899.6C65.7 903 62.1 905.9 60 907.2C57.9 908.5 55.8 917.2 55 907.2C54.2 897.2 54.2 857.4 55 847.4Z" fill="#76b1d7"/>
<path d="M55 952C56.8 949.7 63.8 952.3 66 954C68.2 955.7 68.2 959.7 68 962C67.8 964.3 67.2 967 65 968C62.8 969 56.7 970.7 55 968C53.3 965.3 53.2 954.3 55 952Z" fill="#76b1d7"/>
<path d="M55 1005C56.8 1002 63.8 1005.2 66 1007C68.2 1008.8 68.2 1013 68 1016C67.8 1019 67.2 1023.5 65 1025C62.8 1026.5 56.7 1028.3 55 1025C53.3 1021.7 53.2 1008 55 1005Z" fill="#76b1d7"/>
<path d="M224 831.7C228.8 830.8 233.2 831.4 235.6 833.6C238 835.8 238.9 839.9 238.6 845C238.3 850.1 235.8 857.7 233.7 864C231.6 870.3 228.6 877.2 226 883C223.4 888.8 221.2 894.3 218.4 898.5C215.6 902.7 213 906.8 208.9 908C204.8 909.2 197.6 907.6 193.6 906C189.6 904.4 186.8 902.3 185.2 898.5C183.6 894.7 183.6 888.1 184 883C184.4 877.9 186 873 187.9 868C189.8 863 192.3 857.5 195.5 852.7C198.7 847.9 202.2 842.8 207 839.3C211.8 835.8 219.2 832.7 224 831.7Z" fill="#76b1d7"/>
<path d="M198.7 872.9C200 870.8 204.3 865.9 206.3 865.2C208.3 864.6 210.4 867.1 210.6 869C210.8 870.9 209.2 874.6 207.6 876.7C206 878.8 202.7 881.6 201.2 881.8C199.7 882 199.1 879.5 198.7 878C198.3 876.5 197.4 875 198.7 872.9Z" fill="#92c3e0"/>
<path d="M192 983.6C193.1 980.4 196.6 975.9 200 974C203.4 972.1 209.2 970.9 212.6 972.5C216 974.1 218.5 978.6 220.6 983.6C222.7 988.6 224.4 996.9 225.3 1002.7C226.2 1008.5 227.1 1014.9 226 1018.6C224.9 1022.3 222 1025 219 1025C216 1025 211.1 1021.8 207.9 1018.6C204.7 1015.4 202.4 1010.2 200 1005.9C197.6 1001.6 194.8 996.7 193.5 993C192.2 989.3 190.9 986.8 192 983.6Z" fill="#76b1d7"/>
<path d="M402.5 890C403 888.2 403.9 888.2 405.3 889.2C406.7 890.2 409.1 892.9 411 895.9C412.9 898.9 415 903.6 416.8 907.3C418.6 910.9 421 915.2 421.6 917.8C422.2 920.3 421.7 921.8 420.6 922.6C419.5 923.4 417.1 924.5 414.9 922.6C412.7 920.7 409.4 914.8 407.3 911C405.2 907.2 403.3 903.2 402.5 899.7C401.7 896.2 402 891.8 402.5 890Z" fill="#76b1d7"/>
<path d="M394.7 959.4C396.7 956.9 400.2 953.3 403.6 951.8C407 950.3 412.7 949.6 415 950.5C417.3 951.4 417.8 953.7 417.6 956.9C417.4 960.1 415.7 965.6 413.8 969.6C411.9 973.6 408.8 978.5 406 981C403.2 983.5 399.6 985.7 397.3 984.9C395 984.1 392.9 979 392 976C391.1 973 391.2 969.8 391.7 967C392.1 964.2 392.7 961.9 394.7 959.4Z" fill="#76b1d7"/>
<path d="M328.8 695C293.6 696.8 328.5 700.6 328.8 705.7C329.1 710.8 329.1 718.9 330.4 725.4C331.7 731.9 333 739.2 336.7 744.5C340.4 749.8 348.4 753.3 352.6 757C356.8 760.7 359.9 762.5 362 766.8C364.1 771.1 365 776.9 365 782.7C365 788.5 364.1 795.4 362 801.7C359.9 808.1 355.8 815 352.6 820.8C349.4 826.6 346.2 831.4 343 836.7C339.8 842 336.4 846.8 333.5 852.6C330.6 858.4 327.7 865.3 325.6 871.7C323.5 878.1 322 886.3 320.8 890.8C319.6 895.3 317.4 896.1 318.6 898.7C319.8 901.3 324.5 903.8 328 906.3C331.5 908.8 336.7 913.4 339.6 914C342.5 914.6 343.7 911.9 345.3 910C346.9 908.1 347.4 905.3 349 902.5C350.6 899.7 352.6 896.8 354.9 893C357.1 889.2 359.6 884.4 362.5 879.6C365.4 874.8 369.1 869.2 372 864.4C374.9 859.6 376.8 854.8 379.7 851C382.6 847.2 385.7 844 389.2 841.5C392.7 839 397.7 837.1 400.7 835.7C403.7 834.3 404.6 833.1 407.3 833C410 832.9 413.6 833.2 416.8 834.8C420 836.4 423.8 839.2 426.3 842.4C428.8 845.6 430.4 849.8 432 853.9C433.6 858 434.7 862.5 436 867.3C437.3 872.1 438.2 877.8 440 882.5C441.8 887.2 444.5 891.5 446.5 895.8C448.5 900.1 450 904.3 452 908.5C454 912.7 454.8 917 458.5 921.2C462.2 925.5 469.4 930.6 474 934C478.6 937.4 485.9 938.6 486.3 941.6C486.7 944.6 479.7 948.4 476.5 951.8C473.3 955.2 469.9 958.6 467 962C464.1 965.4 461.6 967.8 459 972C456.4 976.2 453.7 982.3 451.5 987.4C449.3 992.5 447.9 998.6 446 1002.7C444.1 1006.8 445.2 1008.8 440 1012C434.8 1015.2 423.3 1020.3 415 1022C406.7 1023.7 397.2 1023.6 390 1022C382.8 1020.4 376.9 1016.8 371.7 1012.6C366.5 1008.4 362.2 1002 359 996.7C355.8 991.4 354.7 985.6 352.6 980.8C350.5 976 349 969.6 346.3 968C343.6 966.4 339.6 968.1 336.7 971.3C333.8 974.5 329.9 981.9 328.8 987.2C327.8 992.5 329.2 996.7 330.4 1003C331.6 1009.3 334.7 1015.5 336 1025C337.3 1034.5 337.7 1042.5 338 1060C338.3 1077.5 338 1108.3 338 1130C338 1151.7 304.3 1180 338 1190C371.7 1200 506.3 1272.5 540 1190C573.7 1107.5 575.2 777.5 540 695C504.8 612.5 364 693.2 328.8 695Z" fill="#76b1d7"/>
<path d="M332 881C332.9 878.3 334.6 875.1 336.7 873C338.8 870.9 342.8 868.5 344.7 868.5C346.6 868.5 348.2 870.4 347.9 873C347.6 875.6 345.1 881.2 343 884.4C340.9 887.6 337 891.6 335 892.4C333 893.2 331.5 890.9 331 889C330.5 887.1 331.1 883.7 332 881Z" fill="#92c3e0"/>
<path d="M363.8 695C334.4 696.8 363 701.7 363.8 705.7C364.6 709.7 365.7 714.6 368.6 719C371.5 723.4 378.1 727 381.3 731.8C384.5 736.6 386.4 741.3 387.7 747.7C389 754.1 388.8 762 389.3 770C389.8 778 389.8 789.1 390.9 795.4C391.9 801.7 392.4 804.9 395.6 808C398.8 811.1 404.9 811.8 410 814C415.1 816.2 421.6 818.3 425.9 821.5C430.2 824.7 433.5 828.6 436 833C438.5 837.4 439.7 842.3 441 848C442.3 853.7 443.1 861.2 444 867C444.9 872.8 445.5 878.2 446.5 883C447.5 887.8 448.5 891.5 450 895.8C451.5 900 453.3 904.3 455.3 908.5C457.4 912.7 458.7 917 462.2 921.2C465.8 925.5 472.3 930.6 476.4 934C480.5 937.4 486.7 938.6 487 941.6C487.3 944.6 481.4 948.4 478.5 951.8C475.6 955.2 472.3 958.6 469.6 962C466.8 965.4 464.3 967.8 461.9 972C459.5 976.2 457.1 982.3 455.2 987.4C453.3 992.5 451.9 998.1 450.5 1002.7C449.1 1007.3 450.2 1010.3 447 1015C443.8 1019.7 434.2 1024.5 431 1031C427.8 1037.5 431.5 1044.2 428 1054C424.5 1063.8 416.2 1077.3 410 1090C403.8 1102.7 394.5 1120 391 1130C387.5 1140 389.3 1140 389 1150C388.7 1160 363.8 1183.3 389 1190C414.2 1196.7 514.8 1272.5 540 1190C565.2 1107.5 569.4 777.5 540 695C510.6 612.5 393.2 693.2 363.8 695Z" fill="#92c3e0"/>
<path d="M416.3 695C395.7 696.8 416.6 699.6 416.3 705.7C416 711.8 415 724.8 414.7 731.8C414.4 738.8 413.9 741.3 414.7 747.7C415.5 754.1 416.9 762 419.5 770C422.1 778 426.9 788.5 430.6 795.4C434.3 802.3 438.8 806 441.7 811.3C444.6 816.6 446.6 821.7 448 827C449.4 832.3 449.8 836.3 450 843C450.2 849.7 448.8 860.3 449 867C449.2 873.7 450.2 878.2 451 883C451.8 887.8 452.2 891.5 453.5 895.8C454.8 900 456.6 904.3 458.7 908.5C460.8 912.7 462.6 917 466 921.2C469.4 925.5 475.2 930.6 478.8 934C482.4 937.4 487.4 938.6 487.7 941.6C488 944.6 483.1 948.4 480.5 951.8C477.9 955.2 474.8 958.6 472.2 962C469.6 965.4 467.1 967.8 464.8 972C462.6 976.2 460.5 982.3 458.8 987.4C457.2 992.5 456 997.9 455 1002.7C454 1007.5 455.5 1011.3 453 1016C450.5 1020.7 442.4 1024.7 440 1031C437.6 1037.3 441 1044.2 438.5 1054C436 1063.8 429.2 1077.3 425 1090C420.8 1102.7 415.3 1120 413 1130C410.7 1140 411.3 1140 411 1150C410.7 1160 389.5 1183.3 411 1190C432.5 1196.7 518.5 1272.5 540 1190C561.5 1107.5 560.6 777.5 540 695C519.4 612.5 436.9 693.2 416.3 695Z" fill="#aad0e7"/>
<path d="M435.4 695C418 696.8 435.4 699.6 435.4 705.7C435.4 711.8 435.1 723.8 435.4 731.8C435.7 739.8 435.4 746.6 437 754C438.6 761.4 442.9 769.4 445 776.3C447.1 783.2 448.1 789.6 449.7 795.4C451.3 801.2 453.4 806 454.5 811.3C455.6 816.6 455.8 821.7 456 827C456.2 832.3 456.5 836.3 456 843C455.5 849.7 453.2 860.3 453 867C452.8 873.7 454.3 878.2 455 883C455.7 887.8 455.8 891.5 457 895.8C458.2 900 459.9 904.3 462 908.5C464.1 912.7 466.5 917 469.8 921.2C473 925.5 478.1 930.6 481.2 934C484.4 937.4 488.2 938.6 488.4 941.6C488.6 944.6 484.8 948.4 482.5 951.8C480.2 955.2 477.2 958.6 474.8 962C472.3 965.4 469.8 967.8 467.8 972C465.7 976.2 463.9 982.3 462.5 987.4C461.1 992.5 460.2 997.9 459.5 1002.7C458.8 1007.5 460 1011.3 458 1016C456 1020.7 449.2 1024.7 447.5 1031C445.8 1037.3 448.8 1044.2 447.5 1054C446.2 1063.8 442.1 1077.3 440 1090C437.9 1102.7 436.1 1120 435 1130C433.9 1140 433.8 1140 433.6 1150C433.4 1160 415.9 1183.3 433.6 1190C451.3 1196.7 522.3 1272.5 540 1190C557.7 1107.5 557.4 777.5 540 695C522.6 612.5 452.8 693.2 435.4 695Z" fill="#d0e3f0"/>
<path d="M456 695C442 696.8 456.5 699.6 456 705.7C455.5 711.8 453.8 723.8 453 731.8C452.2 739.8 450.8 746.6 451.3 754C451.8 761.4 454.7 769.4 456 776.3C457.3 783.2 458.4 789.6 459.2 795.4C460 801.2 460.4 806 460.8 811.3C461.2 816.6 461.6 821.7 461.5 827C461.4 832.3 461.3 836.3 460.5 843C459.7 849.7 456.8 860.2 456.5 867C456.2 873.8 458.3 879.2 459 884C459.7 888.8 459.4 891.7 460.5 895.8C461.6 899.9 463.2 904.3 465.3 908.5C467.5 912.7 470.4 917 473.5 921.2C476.6 925.5 481.1 930.6 483.7 934C486.3 937.4 489 938.6 489.1 941.6C489.2 944.6 486.5 948.4 484.5 951.8C482.5 955.2 479.6 958.6 477.3 962C475 965.4 472.5 967.8 470.7 972C468.8 976.2 467.3 982.3 466.2 987.4C465.1 992.5 464.5 997.9 464 1002.7C463.5 1007.5 464.3 1011.3 463 1016C461.7 1020.7 457.1 1024.7 456 1031C454.9 1037.3 456.3 1044.2 456.3 1054C456.3 1063.8 456.1 1077.3 456 1090C455.9 1102.7 456 1113.3 456 1130C456 1146.7 442 1180 456 1190C470 1200 526 1272.5 540 1190C554 1107.5 554 777.5 540 695C526 612.5 470 693.2 456 695Z" fill="#dae8f2"/>
<path d="M475 695C464.2 696.8 475.8 699.6 475 705.7C474.2 711.8 471.7 723.8 470.4 731.8C469.1 739.8 467.5 746.6 467.2 754C466.9 761.4 468.3 769.4 468.8 776.3C469.3 783.2 470.4 789.6 470.4 795.4C470.4 801.2 469.4 806 468.8 811.3C468.2 816.6 467.6 821.7 467 827C466.4 832.3 466.2 836.3 465 843C463.8 849.7 460.1 860.1 459.8 867C459.5 873.9 462.3 879.7 463 884.5C463.7 889.3 463.1 891.8 464 895.8C464.9 899.8 466.5 904.3 468.7 908.5C470.9 912.7 474.3 917 477.2 921.2C480.2 925.5 484 930.6 486.1 934C488.2 937.4 489.7 938.6 489.8 941.6C489.9 944.6 488.1 948.4 486.5 951.8C484.9 955.2 482.1 958.6 479.9 962C477.8 965.4 475.3 967.8 473.6 972C471.9 976.2 470.7 982.3 469.8 987.4C469 992.5 468.8 997.9 468.5 1002.7C468.2 1007.5 468.8 1011.3 468 1016C467.2 1020.7 464.2 1024.7 464 1031C463.8 1037.3 464.8 1044.2 466.5 1054C468.2 1063.8 471.6 1077.3 474 1090C476.4 1102.7 479.6 1120 481 1130C482.4 1140 482.3 1140 482.6 1150C482.9 1160 473 1183.3 482.6 1190C492.2 1196.7 530.4 1272.5 540 1190C549.6 1107.5 550.8 777.5 540 695C529.2 612.5 485.8 693.2 475 695Z" fill="#e4edf5"/>
<path d="M502 695C495.7 696.8 501 701.2 502 705.7C503 710.2 505.5 717.5 508 722C510.5 726.5 511.7 730.3 517 733C522.3 735.7 536.2 744.3 540 738C543.8 731.7 546.3 702.2 540 695C533.7 687.8 508.3 693.2 502 695Z" fill="#dae8f2"/>
<path d="M540 744.5C535.3 670.8 519.1 746.1 511.7 747.7C504.3 749.3 499.5 750.3 495.8 754C492.1 757.7 491.2 764.2 489.4 770C487.5 775.8 486 782.7 484.7 789C483.4 795.3 482.8 801.7 481.5 808C480.2 814.3 478.6 821.2 477 827C475.4 832.8 474.2 836.3 472 843C469.8 849.7 465 860 464 867C463 874 465.4 880.2 466 885C466.6 889.8 466.5 891.9 467.5 895.8C468.5 899.7 469.8 904.3 472 908.5C474.2 912.7 478.2 917 481 921.2C483.8 925.5 486.9 930.6 488.5 934C490.1 937.4 490.5 938.6 490.5 941.6C490.5 944.6 489.8 948.4 488.5 951.8C487.2 955.2 484.5 958.6 482.5 962C480.5 965.4 478 967.8 476.5 972C475 976.2 474.1 982.3 473.5 987.4C472.9 992.5 473 997.9 473 1002.7C473 1007.5 473.3 1011.3 473.5 1016C473.7 1020.7 473.2 1024.7 474 1031C474.8 1037.3 475 1044.2 478 1054C481 1063.8 487.5 1077.3 492 1090C496.5 1102.7 502.2 1120 505 1130C507.8 1140 508.3 1140 509 1150C509.7 1160 503.8 1183.3 509 1190C514.2 1196.7 534.8 1264.2 540 1190C545.2 1115.8 544.7 818.2 540 744.5Z" fill="#eef3f8"/>
<path d="M540 771C536.3 715.6 523.8 776 518 779.5C512.2 783 508.7 787.5 505.3 792.2C501.9 797 499.5 802.2 497.4 808C495.3 813.8 493.9 821.2 492.6 827C491.3 832.8 490.7 836.6 489.4 843C488.1 849.4 486.3 857.3 484.7 865.3C483.1 873.3 480.1 884.5 480 890.8C479.9 897.1 482.3 899 484 903C485.7 907 488.4 910.8 490 915C491.6 919.2 492.8 923.6 493.4 928C494 932.4 494 937.1 493.6 941.6C493.2 946.1 492.1 950.6 491 955C489.9 959.4 488.2 963 487 968C485.8 973 484.2 979.2 483.5 985C482.8 990.8 482.6 997.5 483 1003C483.4 1008.5 484.9 1013.3 486 1018C487.1 1022.7 488 1025 489.4 1031C490.8 1037 491.4 1045.8 494.5 1054C497.6 1062.2 502.9 1072.3 508 1080C513.1 1087.7 519.7 1094.7 525 1100C530.3 1105.3 537.5 1166.8 540 1112C542.5 1057.2 543.7 826.4 540 771Z" fill="#f7f3f1"/>
<path d="M540 799C536.8 753.4 525.5 806.6 521 811.3C516.5 816 515.6 821.7 513.3 827C511 832.3 509.1 836.6 507 843C504.9 849.4 502.6 858.3 500.6 865.3C498.6 872.3 495.9 878.4 494.8 885C493.7 891.6 494.2 898.3 494.2 905C494.1 911.7 494.5 918.9 494.5 925C494.5 931.1 494.5 935.7 494.3 941.7C494.1 947.7 493.8 954.4 493.5 960.8C493.2 967.2 492.5 973.5 492.6 980C492.7 986.5 493.1 994 494 1000C494.9 1006 496.7 1010.8 498 1016C499.3 1021.2 500 1024.7 502 1031C504 1037.3 506.7 1047.2 510 1054C513.3 1060.8 517 1066.8 522 1072C527 1077.2 537 1130.5 540 1085C543 1039.5 543.2 844.6 540 799Z" fill="#faece4"/>
<path d="M540 825C537.4 786.4 528.3 830 524.4 833.5C520.5 837 518.9 840.7 516.5 846C514.1 851.3 512.2 858.5 510 865.3C507.8 872.1 505.2 880.4 503 887C500.8 893.6 498.2 898.7 497 905C495.8 911.3 495.9 918.9 495.6 925C495.4 931.1 495.4 936.2 495.5 941.7C495.6 947.2 495.1 952.5 496 958C496.9 963.5 499.2 969.2 501 975C502.8 980.8 505.3 986.5 507 992.7C508.7 998.9 509.7 1005.6 511 1012C512.3 1018.4 513.1 1024 515 1031C516.9 1038 518.3 1048.3 522.5 1054C526.7 1059.7 537.1 1103.2 540 1065C542.9 1026.8 542.6 863.6 540 825Z" fill="#fce4d8"/>
<path d="M540 838C537.1 804.9 526.7 844.9 522.8 849.4C518.9 853.9 518.6 858.9 516.5 865.3C514.4 871.7 512.2 881.7 510 888C507.8 894.3 505 898.3 503 903C501 907.7 499 911.5 498 916C497 920.5 497 925.7 496.8 930C496.6 934.3 496.6 937.2 496.8 941.7C497 946.2 496.8 952 498 957C499.2 962 501.8 967.3 504 972C506.2 976.7 508.8 981.2 511 985C513.2 988.8 515.3 990.5 517 995C518.7 999.5 519.7 1006 521 1012C522.3 1018 521.8 1025 525 1031C528.2 1037 537.5 1080.2 540 1048C542.5 1015.8 542.9 871.1 540 838Z" fill="#fddac8"/>
<path d="M540 857C537.1 830.3 526.7 866.7 522.8 871.8C518.9 876.9 518.6 882.9 516.5 887.7C514.4 892.5 512.4 896.2 510 900.4C507.6 904.6 503.8 908.8 502 913C500.2 917.2 499.7 921.1 499 925.9C498.3 930.7 498 936.4 498 941.7C498 947 498.1 952.8 499 957.6C499.9 962.4 501.9 966.2 503.7 970.4C505.5 974.6 507.9 978.2 510 983C512.1 987.8 514.4 993.2 516.5 999C518.6 1004.8 518.9 1012.5 522.8 1018C526.7 1023.5 537.1 1058.8 540 1032C542.9 1005.2 542.9 883.7 540 857Z" fill="#f9c4ac"/>
<path d="M540 871C537.3 851.2 527.9 878.9 524 883C520.1 887.1 519.1 891.7 516.5 895.5C513.9 899.3 510.9 902.2 508.5 906C506.1 909.8 503.4 914 502 918C500.6 922 500.2 926 499.8 930C499.4 934 499.1 937.4 499.3 941.7C499.5 946 499.7 952 501 956C502.3 960 504.5 963.2 507 966C509.5 968.8 513.2 969.8 516 973C518.8 976.2 520 980.2 524 985C528 989.8 537.3 1021 540 1002C542.7 983 542.7 890.8 540 871Z" fill="#f4ac8e"/>
<path d="M540 882C537.4 868.5 528.3 890.4 524.4 894C520.5 897.6 519.4 900.7 516.5 903.6C513.6 906.5 509.4 908.3 507 911.5C504.6 914.7 503.1 917.7 502 922.7C500.9 927.7 500.3 936.4 500.6 941.7C500.9 947 501.9 951 503.7 954.5C505.5 958 508.8 960.3 511.7 962.4C514.6 964.5 516.5 965.1 521.2 967.2C525.9 969.3 536.9 989.2 540 975C543.1 960.8 542.6 895.5 540 882Z" fill="#f09673"/>
<path d="M503.4 941.5C499.6 939.6 502.8 933.6 503.2 930C503.6 926.4 504.2 922.6 505.5 920C506.8 917.4 508.8 915.4 511 914.5C513.2 913.6 516.8 913.6 519 914.5C521.2 915.4 523.4 917.4 524.5 920C525.6 922.6 525.6 926.4 525.8 930C526 933.6 529.5 939.6 525.8 941.5C522.1 943.4 507.2 943.4 503.4 941.5Z" fill="#e47d5f"/>
<path d="M503.7 941.5C497.8 942.6 503.7 945.9 504.5 948C505.3 950.1 506.6 952.2 508.5 954C510.4 955.8 513.4 957.8 516 959C518.6 960.2 520 960.7 524 961C528 961.3 537.3 964.2 540 961C542.7 957.8 546 944.8 540 941.5C534 938.2 509.6 940.4 503.7 941.5Z" fill="#e47d5f"/>
<path d="M506.7 941.5C504.2 939.6 506.2 933.2 506.5 930C506.8 926.8 507.4 923.9 508.5 922C509.6 920.1 511.4 918.8 513 918.5C514.6 918.2 516.7 918.6 518 920C519.3 921.4 520.4 923.4 521 927C521.6 930.6 524 939.1 521.6 941.5C519.2 943.9 509.2 943.4 506.7 941.5Z" fill="#d65f50"/>
<path d="M507.5 941.5C502.2 942.6 507.3 946 508.5 948C509.7 950 512.2 952.8 514.5 953.4C516.8 954 517.8 952.1 522 951.5C526.2 950.9 537 951.7 540 950C543 948.3 545.4 942.9 540 941.5C534.6 940.1 512.8 940.4 507.5 941.5Z" fill="#d65f50"/>
<path d="M514.2 923.5C515.4 923.3 516.9 925 517.5 928C518.1 931 519.2 939.2 518 941.5C516.8 943.8 511.3 943.6 510 941.5C508.7 939.4 509.7 932 510.4 929C511.1 926 513 923.7 514.2 923.5Z" fill="#c83c41"/>
<path d="M60 937.8H362" stroke="#1a1a1a" stroke-width="1.1"/>
<path d="M60 942.5L200 942.4L330 942L400 941.6L530 941.3" stroke="#1a1a1a" stroke-width="0.8" fill="none"/>
<path d="M60 936.3L84 937L95 937.8L60 939.4Z" fill="#e4e4e4" stroke="#333" stroke-width="0.4"/>
<rect x="60" y="941.6" width="12.5" height="2.6" fill="#000"/>
</g>
<rect x="538.6" y="47.7" width="88.2" height="500.5" fill="#fff" stroke="#777" stroke-width="1"/>
<path d="M60.1 41.8V514.8" stroke="#000" stroke-width="2.7"/>
<path d="M58.8 513.6H578" stroke="#000" stroke-width="2.4"/>
<path d="M60 490.9H67.7" stroke="#222" stroke-width="0.9"/>
<path d="M60 467.4H67.7" stroke="#222" stroke-width="0.9"/>
<path d="M60 443.8H67.7" stroke="#222" stroke-width="0.9"/>
<path d="M60 420.3H67.7" stroke="#222" stroke-width="0.9"/>
<path d="M60 396.7H72" stroke="#000" stroke-width="2.8"/>
<path d="M60 373.2H67.7" stroke="#222" stroke-width="0.9"/>
<path d="M60 349.6H67.7" stroke="#222" stroke-width="0.9"/>
<path d="M60 326.1H67.7" stroke="#222" stroke-width="0.9"/>
<path d="M60 302.5H67.7" stroke="#222" stroke-width="0.9"/>
<path d="M60 278.9H72" stroke="#000" stroke-width="2.8"/>
<path d="M60 255.4H67.7" stroke="#222" stroke-width="0.9"/>
<path d="M60 231.8H67.7" stroke="#222" stroke-width="0.9"/>
<path d="M60 208.3H67.7" stroke="#222" stroke-width="0.9"/>
<path d="M60 184.7H67.7" stroke="#222" stroke-width="0.9"/>
<path d="M60 161.2H72" stroke="#000" stroke-width="2.8"/>
<path d="M60 137.6H67.7" stroke="#222" stroke-width="0.9"/>
<path d="M60 114.1H67.7" stroke="#222" stroke-width="0.9"/>
<path d="M60 90.5H67.7" stroke="#222" stroke-width="0.9"/>
<path d="M60 67H67.7" stroke="#222" stroke-width="0.9"/>
<path d="M60 43.4H72" stroke="#000" stroke-width="2.8"/>
<path d="M107.3 507.5V513.5" stroke="#222" stroke-width="0.9"/>
<path d="M154.4 507.5V513.5" stroke="#222" stroke-width="0.9"/>
<path d="M201.5 507.5V513.5" stroke="#222" stroke-width="0.9"/>
<path d="M248.6 507.5V513.5" stroke="#222" stroke-width="0.9"/>
<path d="M295.7 501.5V513.5" stroke="#000" stroke-width="2.4"/>
<path d="M342.8 507.5V513.5" stroke="#222" stroke-width="0.9"/>
<path d="M389.9 507.5V513.5" stroke="#222" stroke-width="0.9"/>
<path d="M437 507.5V513.5" stroke="#222" stroke-width="0.9"/>
<path d="M484.1 507.5V513.5" stroke="#222" stroke-width="0.9"/>
<path d="M531.2 501.5V513.5" stroke="#000" stroke-width="2.4"/>
<path d="M528.4 42V513" stroke="#333" stroke-width="0.7"/>
<text transform="translate(59.5 46.3) rotate(-57) scale(1.090 1)" font-size="17.7" text-anchor="end">2E-05</text>
<text transform="translate(59.5 164.2) rotate(-57) scale(1.090 1)" font-size="17.7" text-anchor="end">1.5E-05</text>
<text transform="translate(59.5 282) rotate(-57) scale(1.090 1)" font-size="17.7" text-anchor="end">1E-05</text>
<text transform="translate(59.5 399.8) rotate(-57) scale(1.090 1)" font-size="17.7" text-anchor="end">5E-06</text>
<text transform="translate(53.5 522.5) rotate(-57) scale(1.120 1)" font-size="17.7" text-anchor="middle">0</text>
<text transform="translate(60.5 532.7) scale(1.080 1)" font-size="17.7" text-anchor="middle">0</text>
<text transform="translate(295.8 532.7) scale(1.080 1)" font-size="17.7" text-anchor="middle">1E-05</text>
<text transform="translate(531.5 532.7) scale(1.080 1)" font-size="17.7" text-anchor="middle">2E-05</text>
<text class="b" transform="translate(319.3 554.2) scale(1.100 1)" font-size="20.5" text-anchor="middle">x (m)</text>
<text class="b" transform="translate(18 278.3) rotate(-90) scale(1.100 1)" font-size="20.5" text-anchor="middle">y (m)</text>
<text class="b" transform="translate(283 23.6) scale(1.028 1)" font-size="29.2" text-anchor="middle">Normal Stress</text>
<rect x="545.5" y="67.2" width="28" height="11.5" fill="#b4192d"/>
<rect x="545.5" y="78.7" width="28" height="22.4" fill="#c83c41"/>
<rect x="545.5" y="100.8" width="28" height="22.4" fill="#d65f50"/>
<rect x="545.5" y="122.8" width="28" height="22.4" fill="#e47d5f"/>
<rect x="545.5" y="144.9" width="28" height="22.4" fill="#f09673"/>
<rect x="545.5" y="167" width="28" height="22.4" fill="#f4ac8e"/>
<rect x="545.5" y="189.1" width="28" height="22.4" fill="#f9c4ac"/>
<rect x="545.5" y="211.1" width="28" height="22.4" fill="#fddac8"/>
<rect x="545.5" y="233.2" width="28" height="22.4" fill="#fce4d8"/>
<rect x="545.5" y="255.3" width="28" height="22.4" fill="#faece4"/>
<rect x="545.5" y="277.4" width="28" height="22.4" fill="#f7f3f1"/>
<rect x="545.5" y="299.4" width="28" height="22.4" fill="#eef3f8"/>
<rect x="545.5" y="321.5" width="28" height="22.4" fill="#e4edf5"/>
<rect x="545.5" y="343.6" width="28" height="22.4" fill="#dae8f2"/>
<rect x="545.5" y="365.7" width="28" height="22.4" fill="#d0e3f0"/>
<rect x="545.5" y="387.8" width="28" height="22.4" fill="#aad0e7"/>
<rect x="545.5" y="409.8" width="28" height="22.4" fill="#92c3e0"/>
<rect x="545.5" y="431.9" width="28" height="22.4" fill="#76b1d7"/>
<rect x="545.5" y="454" width="28" height="22.4" fill="#5e9fce"/>
<rect x="545.5" y="476" width="28" height="22.4" fill="#468ac3"/>
<rect x="545.5" y="498.1" width="28" height="22.4" fill="#3476b9"/>
<rect x="545.5" y="520.2" width="28" height="11.8" fill="#2465ac"/>
<path d="M545.5 78.7H573.5" stroke="#333" stroke-width="0.8"/>
<text transform="translate(586.6 87.6) scale(1.030 1)" font-size="18.5" text-anchor="start">3.8</text>
<path d="M545.5 100.8H573.5" stroke="#333" stroke-width="0.8"/>
<text transform="translate(586.6 109.7) scale(1.030 1)" font-size="18.5" text-anchor="start">3.6</text>
<path d="M545.5 122.8H573.5" stroke="#333" stroke-width="0.8"/>
<text transform="translate(586.6 131.8) scale(1.030 1)" font-size="18.5" text-anchor="start">3.4</text>
<path d="M545.5 144.9H573.5" stroke="#333" stroke-width="0.8"/>
<text transform="translate(586.6 153.8) scale(1.030 1)" font-size="18.5" text-anchor="start">3.2</text>
<path d="M545.5 167H573.5" stroke="#333" stroke-width="0.8"/>
<text transform="translate(586.6 175.9) scale(1.030 1)" font-size="18.5" text-anchor="start">3</text>
<path d="M545.5 189.1H573.5" stroke="#333" stroke-width="0.8"/>
<text transform="translate(586.6 198) scale(1.030 1)" font-size="18.5" text-anchor="start">2.8</text>
<path d="M545.5 211.1H573.5" stroke="#333" stroke-width="0.8"/>
<text transform="translate(586.6 220) scale(1.030 1)" font-size="18.5" text-anchor="start">2.6</text>
<path d="M545.5 233.2H573.5" stroke="#333" stroke-width="0.8"/>
<text transform="translate(586.6 242.1) scale(1.030 1)" font-size="18.5" text-anchor="start">2.4</text>
<path d="M545.5 255.3H573.5" stroke="#333" stroke-width="0.8"/>
<text transform="translate(586.6 264.2) scale(1.030 1)" font-size="18.5" text-anchor="start">2.2</text>
<path d="M545.5 277.4H573.5" stroke="#333" stroke-width="0.8"/>
<text transform="translate(586.6 286.3) scale(1.030 1)" font-size="18.5" text-anchor="start">2</text>
<path d="M545.5 299.4H573.5" stroke="#333" stroke-width="0.8"/>
<text transform="translate(586.6 308.3) scale(1.030 1)" font-size="18.5" text-anchor="start">1.8</text>
<path d="M545.5 321.5H573.5" stroke="#333" stroke-width="0.8"/>
<text transform="translate(586.6 330.4) scale(1.030 1)" font-size="18.5" text-anchor="start">1.6</text>
<path d="M545.5 343.6H573.5" stroke="#333" stroke-width="0.8"/>
<text transform="translate(586.6 352.5) scale(1.030 1)" font-size="18.5" text-anchor="start">1.4</text>
<path d="M545.5 365.7H573.5" stroke="#333" stroke-width="0.8"/>
<text transform="translate(586.6 374.6) scale(1.030 1)" font-size="18.5" text-anchor="start">1.2</text>
<path d="M545.5 387.8H573.5" stroke="#333" stroke-width="0.8"/>
<text transform="translate(586.6 396.6) scale(1.030 1)" font-size="18.5" text-anchor="start">1</text>
<path d="M545.5 409.8H573.5" stroke="#333" stroke-width="0.8"/>
<text transform="translate(586.6 418.7) scale(1.030 1)" font-size="18.5" text-anchor="start">0.8</text>
<path d="M545.5 431.9H573.5" stroke="#333" stroke-width="0.8"/>
<text transform="translate(586.6 440.8) scale(1.030 1)" font-size="18.5" text-anchor="start">0.6</text>
<path d="M545.5 454H573.5" stroke="#333" stroke-width="0.8"/>
<text transform="translate(586.6 462.9) scale(1.030 1)" font-size="18.5" text-anchor="start">0.4</text>
<path d="M545.5 476H573.5" stroke="#333" stroke-width="0.8"/>
<text transform="translate(586.6 484.9) scale(1.030 1)" font-size="18.5" text-anchor="start">0.2</text>
<path d="M545.5 498.1H573.5" stroke="#333" stroke-width="0.8"/>
<text transform="translate(586.6 507) scale(1.030 1)" font-size="18.5" text-anchor="start">0</text>
<path d="M545.5 520.2H573.5" stroke="#333" stroke-width="0.8"/>
<text transform="translate(579.8 529.1) scale(1.030 1)" font-size="18.5" text-anchor="start">-0.2</text>
<rect x="545.5" y="67.2" width="28" height="464.5" fill="none" stroke="#555" stroke-width="0.7"/>
<path d="M578 507V514.8" stroke="#222" stroke-width="1"/>
<rect x="311.3" y="394.7" width="260" height="67.9" fill="#fff" stroke="#333" stroke-width="1"/>
<text class="b" transform="translate(315.8 412.9) scale(1.018 1)" font-size="21.9" text-anchor="start">Normalized by</text>
<text class="b" transform="translate(321.3 435.2) scale(1.018 1)" font-size="21.9" text-anchor="start">Static Yield 110MPa</text>
<text class="b" transform="translate(321.6 457.5) scale(1.018 1)" font-size="21.9" text-anchor="start">At 0.8% Nominal Strain</text>
<rect x="539" y="711.7" width="88.2" height="500.5" fill="#fff" stroke="#777" stroke-width="1"/>
<path d="M60.1 705.8V1178.8" stroke="#000" stroke-width="2.7"/>
<path d="M58.8 1177.6H578" stroke="#000" stroke-width="2.4"/>
<path d="M60 1154.9H67.7" stroke="#222" stroke-width="0.9"/>
<path d="M60 1131.4H67.7" stroke="#222" stroke-width="0.9"/>
<path d="M60 1107.8H67.7" stroke="#222" stroke-width="0.9"/>
<path d="M60 1084.3H67.7" stroke="#222" stroke-width="0.9"/>
<path d="M60 1060.7H72" stroke="#000" stroke-width="2.8"/>
<path d="M60 1037.2H67.7" stroke="#222" stroke-width="0.9"/>
<path d="M60 1013.6H67.7" stroke="#222" stroke-width="0.9"/>
<path d="M60 990.1H67.7" stroke="#222" stroke-width="0.9"/>
<path d="M60 966.5H67.7" stroke="#222" stroke-width="0.9"/>
<path d="M60 943H72" stroke="#000" stroke-width="2.8"/>
<path d="M60 919.4H67.7" stroke="#222" stroke-width="0.9"/>
<path d="M60 895.8H67.7" stroke="#222" stroke-width="0.9"/>
<path d="M60 872.3H67.7" stroke="#222" stroke-width="0.9"/>
<path d="M60 848.7H67.7" stroke="#222" stroke-width="0.9"/>
<path d="M60 825.2H72" stroke="#000" stroke-width="2.8"/>
<path d="M60 801.6H67.7" stroke="#222" stroke-width="0.9"/>
<path d="M60 778.1H67.7" stroke="#222" stroke-width="0.9"/>
<path d="M60 754.5H67.7" stroke="#222" stroke-width="0.9"/>
<path d="M60 731H67.7" stroke="#222" stroke-width="0.9"/>
<path d="M60 707.4H72" stroke="#000" stroke-width="2.8"/>
<path d="M107.3 1171.5V1177.5" stroke="#222" stroke-width="0.9"/>
<path d="M154.4 1171.5V1177.5" stroke="#222" stroke-width="0.9"/>
<path d="M201.5 1171.5V1177.5" stroke="#222" stroke-width="0.9"/>
<path d="M248.6 1171.5V1177.5" stroke="#222" stroke-width="0.9"/>
<path d="M295.7 1165.5V1177.5" stroke="#000" stroke-width="2.4"/>
<path d="M342.8 1171.5V1177.5" stroke="#222" stroke-width="0.9"/>
<path d="M389.9 1171.5V1177.5" stroke="#222" stroke-width="0.9"/>
<path d="M437 1171.5V1177.5" stroke="#222" stroke-width="0.9"/>
<path d="M484.1 1171.5V1177.5" stroke="#222" stroke-width="0.9"/>
<path d="M531.2 1165.5V1177.5" stroke="#000" stroke-width="2.4"/>
<path d="M529.8 706V1177" stroke="#333" stroke-width="0.7"/>
<text transform="translate(59.5 710.3) rotate(-57) scale(1.090 1)" font-size="17.7" text-anchor="end">2E-05</text>
<text transform="translate(59.5 828.2) rotate(-57) scale(1.090 1)" font-size="17.7" text-anchor="end">1.5E-05</text>
<text transform="translate(59.5 946) rotate(-57) scale(1.090 1)" font-size="17.7" text-anchor="end">1E-05</text>
<text transform="translate(59.5 1063.8) rotate(-57) scale(1.090 1)" font-size="17.7" text-anchor="end">5E-06</text>
<text transform="translate(53.5 1186.5) rotate(-57) scale(1.120 1)" font-size="17.7" text-anchor="middle">0</text>
<text transform="translate(60.5 1196.7) scale(1.080 1)" font-size="17.7" text-anchor="middle">0</text>
<text transform="translate(295.8 1196.7) scale(1.080 1)" font-size="17.7" text-anchor="middle">1E-05</text>
<text transform="translate(531.5 1196.7) scale(1.080 1)" font-size="17.7" text-anchor="middle">2E-05</text>
<text class="b" transform="translate(319.3 1218.2) scale(1.100 1)" font-size="20.5" text-anchor="middle">x (m)</text>
<text class="b" transform="translate(18 942.3) rotate(-90) scale(1.100 1)" font-size="20.5" text-anchor="middle">y (m)</text>
<text class="b" transform="translate(283 687.6) scale(1.028 1)" font-size="29.2" text-anchor="middle">Normal Stress</text>
<rect x="545.9" y="731.2" width="28" height="11.5" fill="#b4192d"/>
<rect x="545.9" y="742.7" width="28" height="22.4" fill="#c83c41"/>
<rect x="545.9" y="764.8" width="28" height="22.4" fill="#d65f50"/>
<rect x="545.9" y="786.9" width="28" height="22.4" fill="#e47d5f"/>
<rect x="545.9" y="808.9" width="28" height="22.4" fill="#f09673"/>
<rect x="545.9" y="831" width="28" height="22.4" fill="#f4ac8e"/>
<rect x="545.9" y="853.1" width="28" height="22.4" fill="#f9c4ac"/>
<rect x="545.9" y="875.2" width="28" height="22.4" fill="#fddac8"/>
<rect x="545.9" y="897.2" width="28" height="22.4" fill="#fce4d8"/>
<rect x="545.9" y="919.3" width="28" height="22.4" fill="#faece4"/>
<rect x="545.9" y="941.4" width="28" height="22.4" fill="#f7f3f1"/>
<rect x="545.9" y="963.5" width="28" height="22.4" fill="#eef3f8"/>
<rect x="545.9" y="985.5" width="28" height="22.4" fill="#e4edf5"/>
<rect x="545.9" y="1007.6" width="28" height="22.4" fill="#dae8f2"/>
<rect x="545.9" y="1029.7" width="28" height="22.4" fill="#d0e3f0"/>
<rect x="545.9" y="1051.8" width="28" height="22.4" fill="#aad0e7"/>
<rect x="545.9" y="1073.8" width="28" height="22.4" fill="#92c3e0"/>
<rect x="545.9" y="1095.9" width="28" height="22.4" fill="#76b1d7"/>
<rect x="545.9" y="1118" width="28" height="22.4" fill="#5e9fce"/>
<rect x="545.9" y="1140" width="28" height="22.4" fill="#468ac3"/>
<rect x="545.9" y="1162.1" width="28" height="22.4" fill="#3476b9"/>
<rect x="545.9" y="1184.2" width="28" height="11.8" fill="#2465ac"/>
<path d="M545.9 742.7H573.9" stroke="#333" stroke-width="0.8"/>
<text transform="translate(587 751.6) scale(1.030 1)" font-size="18.5" text-anchor="start">3.6</text>
<path d="M545.9 764.8H573.9" stroke="#333" stroke-width="0.8"/>
<text transform="translate(587 773.7) scale(1.030 1)" font-size="18.5" text-anchor="start">3.4</text>
<path d="M545.9 786.9H573.9" stroke="#333" stroke-width="0.8"/>
<text transform="translate(587 795.8) scale(1.030 1)" font-size="18.5" text-anchor="start">3.2</text>
<path d="M545.9 808.9H573.9" stroke="#333" stroke-width="0.8"/>
<text transform="translate(587 817.8) scale(1.030 1)" font-size="18.5" text-anchor="start">3</text>
<path d="M545.9 831H573.9" stroke="#333" stroke-width="0.8"/>
<text transform="translate(587 839.9) scale(1.030 1)" font-size="18.5" text-anchor="start">2.8</text>
<path d="M545.9 853.1H573.9" stroke="#333" stroke-width="0.8"/>
<text transform="translate(587 862) scale(1.030 1)" font-size="18.5" text-anchor="start">2.6</text>
<path d="M545.9 875.2H573.9" stroke="#333" stroke-width="0.8"/>
<text transform="translate(587 884.1) scale(1.030 1)" font-size="18.5" text-anchor="start">2.4</text>
<path d="M545.9 897.2H573.9" stroke="#333" stroke-width="0.8"/>
<text transform="translate(587 906.1) scale(1.030 1)" font-size="18.5" text-anchor="start">2.2</text>
<path d="M545.9 919.3H573.9" stroke="#333" stroke-width="0.8"/>
<text transform="translate(587 928.2) scale(1.030 1)" font-size="18.5" text-anchor="start">2</text>
<path d="M545.9 941.4H573.9" stroke="#333" stroke-width="0.8"/>
<text transform="translate(587 950.3) scale(1.030 1)" font-size="18.5" text-anchor="start">1.8</text>
<path d="M545.9 963.5H573.9" stroke="#333" stroke-width="0.8"/>
<text transform="translate(587 972.4) scale(1.030 1)" font-size="18.5" text-anchor="start">1.6</text>
<path d="M545.9 985.5H573.9" stroke="#333" stroke-width="0.8"/>
<text transform="translate(587 994.4) scale(1.030 1)" font-size="18.5" text-anchor="start">1.4</text>
<path d="M545.9 1007.6H573.9" stroke="#333" stroke-width="0.8"/>
<text transform="translate(587 1016.5) scale(1.030 1)" font-size="18.5" text-anchor="start">1.2</text>
<path d="M545.9 1029.7H573.9" stroke="#333" stroke-width="0.8"/>
<text transform="translate(587 1038.6) scale(1.030 1)" font-size="18.5" text-anchor="start">1</text>
<path d="M545.9 1051.8H573.9" stroke="#333" stroke-width="0.8"/>
<text transform="translate(587 1060.7) scale(1.030 1)" font-size="18.5" text-anchor="start">0.8</text>
<path d="M545.9 1073.8H573.9" stroke="#333" stroke-width="0.8"/>
<text transform="translate(587 1082.7) scale(1.030 1)" font-size="18.5" text-anchor="start">0.6</text>
<path d="M545.9 1095.9H573.9" stroke="#333" stroke-width="0.8"/>
<text transform="translate(587 1104.8) scale(1.030 1)" font-size="18.5" text-anchor="start">0.4</text>
<path d="M545.9 1118H573.9" stroke="#333" stroke-width="0.8"/>
<text transform="translate(587 1126.9) scale(1.030 1)" font-size="18.5" text-anchor="start">0.2</text>
<path d="M545.9 1140H573.9" stroke="#333" stroke-width="0.8"/>
<text transform="translate(587 1149) scale(1.030 1)" font-size="18.5" text-anchor="start">0</text>
<path d="M545.9 1162.1H573.9" stroke="#333" stroke-width="0.8"/>
<text transform="translate(580.2 1171) scale(1.030 1)" font-size="18.5" text-anchor="start">-0.2</text>
<path d="M545.9 1184.2H573.9" stroke="#333" stroke-width="0.8"/>
<text transform="translate(580.2 1193.1) scale(1.030 1)" font-size="18.5" text-anchor="start">-0.4</text>
<rect x="545.9" y="731.2" width="28" height="464.5" fill="none" stroke="#555" stroke-width="0.7"/>
<path d="M578 1171V1178.8" stroke="#222" stroke-width="1"/>
<rect x="311.3" y="1058.7" width="260" height="67.9" fill="#fff" stroke="#333" stroke-width="1"/>
<text class="b" transform="translate(315.8 1076.9) scale(1.018 1)" font-size="21.9" text-anchor="start">Normalized by</text>
<text class="b" transform="translate(321.3 1099.2) scale(1.018 1)" font-size="21.9" text-anchor="start">Static Yield 110MPa</text>
<text class="b" transform="translate(321.6 1121.5) scale(1.018 1)" font-size="21.9" text-anchor="start">At 0.8% Nominal Strain</text>
<text class="t" transform="translate(317.5 609) scale(1.080 1)" font-size="35.5" text-anchor="middle">(a)</text>
<text class="t" transform="translate(317.5 1273) scale(1.080 1)" font-size="35.5" text-anchor="middle">(b)</text>
</svg>
</body></html>
